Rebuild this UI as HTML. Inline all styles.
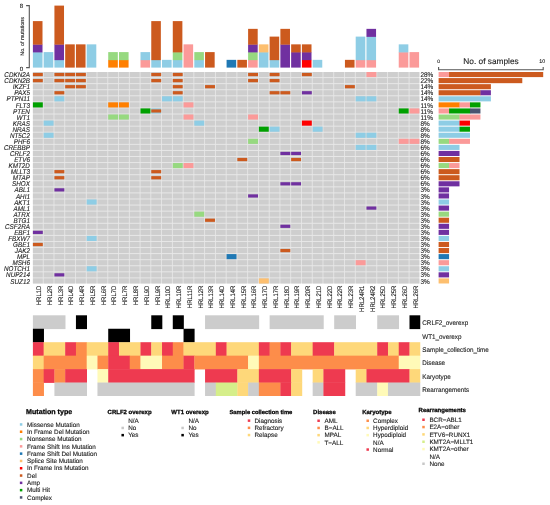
<!DOCTYPE html>
<html><head><meta charset="utf-8"><title>Oncoplot</title>
<style>
html,body{margin:0;padding:0;background:#fff;}
body{width:550px;height:505px;overflow:hidden;}
svg{display:block;font-family:'Liberation Sans', Arial, Helvetica, sans-serif;}
text{fill:#1c1c1c;stroke:#1c1c1c;stroke-width:0.12px;text-rendering:geometricPrecision;}
</style></head>
<body>
<svg width="550" height="505" viewBox="0 0 550 505">
<rect width="550" height="505" fill="#fff"/>
<g id="grid">
<rect x="32.9" y="72" width="386.5" height="211.48" fill="#E8E8E8"/>
<rect x="32.9" y="72" width="9.9" height="5.1" fill="#CECECE"/>
<rect x="43.66" y="72" width="9.9" height="5.1" fill="#CECECE"/>
<rect x="54.42" y="72" width="9.9" height="5.1" fill="#CECECE"/>
<rect x="65.18" y="72" width="9.9" height="5.1" fill="#CECECE"/>
<rect x="75.94" y="72" width="9.9" height="5.1" fill="#CECECE"/>
<rect x="86.7" y="72" width="9.9" height="5.1" fill="#CECECE"/>
<rect x="97.46" y="72" width="9.9" height="5.1" fill="#CECECE"/>
<rect x="108.22" y="72" width="9.9" height="5.1" fill="#CECECE"/>
<rect x="118.98" y="72" width="9.9" height="5.1" fill="#CECECE"/>
<rect x="129.74" y="72" width="9.9" height="5.1" fill="#CECECE"/>
<rect x="140.5" y="72" width="9.9" height="5.1" fill="#CECECE"/>
<rect x="151.26" y="72" width="9.9" height="5.1" fill="#CECECE"/>
<rect x="162.02" y="72" width="9.9" height="5.1" fill="#CECECE"/>
<rect x="172.78" y="72" width="9.9" height="5.1" fill="#CECECE"/>
<rect x="183.54" y="72" width="9.9" height="5.1" fill="#CECECE"/>
<rect x="194.3" y="72" width="9.9" height="5.1" fill="#CECECE"/>
<rect x="205.06" y="72" width="9.9" height="5.1" fill="#CECECE"/>
<rect x="215.82" y="72" width="9.9" height="5.1" fill="#CECECE"/>
<rect x="226.58" y="72" width="9.9" height="5.1" fill="#CECECE"/>
<rect x="237.34" y="72" width="9.9" height="5.1" fill="#CECECE"/>
<rect x="248.1" y="72" width="9.9" height="5.1" fill="#CECECE"/>
<rect x="258.86" y="72" width="9.9" height="5.1" fill="#CECECE"/>
<rect x="269.62" y="72" width="9.9" height="5.1" fill="#CECECE"/>
<rect x="280.38" y="72" width="9.9" height="5.1" fill="#CECECE"/>
<rect x="291.14" y="72" width="9.9" height="5.1" fill="#CECECE"/>
<rect x="301.9" y="72" width="9.9" height="5.1" fill="#CECECE"/>
<rect x="312.66" y="72" width="9.9" height="5.1" fill="#CECECE"/>
<rect x="323.42" y="72" width="9.9" height="5.1" fill="#CECECE"/>
<rect x="334.18" y="72" width="9.9" height="5.1" fill="#CECECE"/>
<rect x="344.94" y="72" width="9.9" height="5.1" fill="#CECECE"/>
<rect x="355.7" y="72" width="9.9" height="5.1" fill="#CECECE"/>
<rect x="366.46" y="72" width="9.9" height="5.1" fill="#CECECE"/>
<rect x="377.22" y="72" width="9.9" height="5.1" fill="#CECECE"/>
<rect x="387.98" y="72" width="9.9" height="5.1" fill="#CECECE"/>
<rect x="398.74" y="72" width="9.9" height="5.1" fill="#CECECE"/>
<rect x="409.5" y="72" width="9.9" height="5.1" fill="#CECECE"/>
<rect x="32.9" y="78.07" width="9.9" height="5.1" fill="#CECECE"/>
<rect x="43.66" y="78.07" width="9.9" height="5.1" fill="#CECECE"/>
<rect x="54.42" y="78.07" width="9.9" height="5.1" fill="#CECECE"/>
<rect x="65.18" y="78.07" width="9.9" height="5.1" fill="#CECECE"/>
<rect x="75.94" y="78.07" width="9.9" height="5.1" fill="#CECECE"/>
<rect x="86.7" y="78.07" width="9.9" height="5.1" fill="#CECECE"/>
<rect x="97.46" y="78.07" width="9.9" height="5.1" fill="#CECECE"/>
<rect x="108.22" y="78.07" width="9.9" height="5.1" fill="#CECECE"/>
<rect x="118.98" y="78.07" width="9.9" height="5.1" fill="#CECECE"/>
<rect x="129.74" y="78.07" width="9.9" height="5.1" fill="#CECECE"/>
<rect x="140.5" y="78.07" width="9.9" height="5.1" fill="#CECECE"/>
<rect x="151.26" y="78.07" width="9.9" height="5.1" fill="#CECECE"/>
<rect x="162.02" y="78.07" width="9.9" height="5.1" fill="#CECECE"/>
<rect x="172.78" y="78.07" width="9.9" height="5.1" fill="#CECECE"/>
<rect x="183.54" y="78.07" width="9.9" height="5.1" fill="#CECECE"/>
<rect x="194.3" y="78.07" width="9.9" height="5.1" fill="#CECECE"/>
<rect x="205.06" y="78.07" width="9.9" height="5.1" fill="#CECECE"/>
<rect x="215.82" y="78.07" width="9.9" height="5.1" fill="#CECECE"/>
<rect x="226.58" y="78.07" width="9.9" height="5.1" fill="#CECECE"/>
<rect x="237.34" y="78.07" width="9.9" height="5.1" fill="#CECECE"/>
<rect x="248.1" y="78.07" width="9.9" height="5.1" fill="#CECECE"/>
<rect x="258.86" y="78.07" width="9.9" height="5.1" fill="#CECECE"/>
<rect x="269.62" y="78.07" width="9.9" height="5.1" fill="#CECECE"/>
<rect x="280.38" y="78.07" width="9.9" height="5.1" fill="#CECECE"/>
<rect x="291.14" y="78.07" width="9.9" height="5.1" fill="#CECECE"/>
<rect x="301.9" y="78.07" width="9.9" height="5.1" fill="#CECECE"/>
<rect x="312.66" y="78.07" width="9.9" height="5.1" fill="#CECECE"/>
<rect x="323.42" y="78.07" width="9.9" height="5.1" fill="#CECECE"/>
<rect x="334.18" y="78.07" width="9.9" height="5.1" fill="#CECECE"/>
<rect x="344.94" y="78.07" width="9.9" height="5.1" fill="#CECECE"/>
<rect x="355.7" y="78.07" width="9.9" height="5.1" fill="#CECECE"/>
<rect x="366.46" y="78.07" width="9.9" height="5.1" fill="#CECECE"/>
<rect x="377.22" y="78.07" width="9.9" height="5.1" fill="#CECECE"/>
<rect x="387.98" y="78.07" width="9.9" height="5.1" fill="#CECECE"/>
<rect x="398.74" y="78.07" width="9.9" height="5.1" fill="#CECECE"/>
<rect x="409.5" y="78.07" width="9.9" height="5.1" fill="#CECECE"/>
<rect x="32.9" y="84.14" width="9.9" height="5.1" fill="#CECECE"/>
<rect x="43.66" y="84.14" width="9.9" height="5.1" fill="#CECECE"/>
<rect x="54.42" y="84.14" width="9.9" height="5.1" fill="#CECECE"/>
<rect x="65.18" y="84.14" width="9.9" height="5.1" fill="#CECECE"/>
<rect x="75.94" y="84.14" width="9.9" height="5.1" fill="#CECECE"/>
<rect x="86.7" y="84.14" width="9.9" height="5.1" fill="#CECECE"/>
<rect x="97.46" y="84.14" width="9.9" height="5.1" fill="#CECECE"/>
<rect x="108.22" y="84.14" width="9.9" height="5.1" fill="#CECECE"/>
<rect x="118.98" y="84.14" width="9.9" height="5.1" fill="#CECECE"/>
<rect x="129.74" y="84.14" width="9.9" height="5.1" fill="#CECECE"/>
<rect x="140.5" y="84.14" width="9.9" height="5.1" fill="#CECECE"/>
<rect x="151.26" y="84.14" width="9.9" height="5.1" fill="#CECECE"/>
<rect x="162.02" y="84.14" width="9.9" height="5.1" fill="#CECECE"/>
<rect x="172.78" y="84.14" width="9.9" height="5.1" fill="#CECECE"/>
<rect x="183.54" y="84.14" width="9.9" height="5.1" fill="#CECECE"/>
<rect x="194.3" y="84.14" width="9.9" height="5.1" fill="#CECECE"/>
<rect x="205.06" y="84.14" width="9.9" height="5.1" fill="#CECECE"/>
<rect x="215.82" y="84.14" width="9.9" height="5.1" fill="#CECECE"/>
<rect x="226.58" y="84.14" width="9.9" height="5.1" fill="#CECECE"/>
<rect x="237.34" y="84.14" width="9.9" height="5.1" fill="#CECECE"/>
<rect x="248.1" y="84.14" width="9.9" height="5.1" fill="#CECECE"/>
<rect x="258.86" y="84.14" width="9.9" height="5.1" fill="#CECECE"/>
<rect x="269.62" y="84.14" width="9.9" height="5.1" fill="#CECECE"/>
<rect x="280.38" y="84.14" width="9.9" height="5.1" fill="#CECECE"/>
<rect x="291.14" y="84.14" width="9.9" height="5.1" fill="#CECECE"/>
<rect x="301.9" y="84.14" width="9.9" height="5.1" fill="#CECECE"/>
<rect x="312.66" y="84.14" width="9.9" height="5.1" fill="#CECECE"/>
<rect x="323.42" y="84.14" width="9.9" height="5.1" fill="#CECECE"/>
<rect x="334.18" y="84.14" width="9.9" height="5.1" fill="#CECECE"/>
<rect x="344.94" y="84.14" width="9.9" height="5.1" fill="#CECECE"/>
<rect x="355.7" y="84.14" width="9.9" height="5.1" fill="#CECECE"/>
<rect x="366.46" y="84.14" width="9.9" height="5.1" fill="#CECECE"/>
<rect x="377.22" y="84.14" width="9.9" height="5.1" fill="#CECECE"/>
<rect x="387.98" y="84.14" width="9.9" height="5.1" fill="#CECECE"/>
<rect x="398.74" y="84.14" width="9.9" height="5.1" fill="#CECECE"/>
<rect x="409.5" y="84.14" width="9.9" height="5.1" fill="#CECECE"/>
<rect x="32.9" y="90.21" width="9.9" height="5.1" fill="#CECECE"/>
<rect x="43.66" y="90.21" width="9.9" height="5.1" fill="#CECECE"/>
<rect x="54.42" y="90.21" width="9.9" height="5.1" fill="#CECECE"/>
<rect x="65.18" y="90.21" width="9.9" height="5.1" fill="#CECECE"/>
<rect x="75.94" y="90.21" width="9.9" height="5.1" fill="#CECECE"/>
<rect x="86.7" y="90.21" width="9.9" height="5.1" fill="#CECECE"/>
<rect x="97.46" y="90.21" width="9.9" height="5.1" fill="#CECECE"/>
<rect x="108.22" y="90.21" width="9.9" height="5.1" fill="#CECECE"/>
<rect x="118.98" y="90.21" width="9.9" height="5.1" fill="#CECECE"/>
<rect x="129.74" y="90.21" width="9.9" height="5.1" fill="#CECECE"/>
<rect x="140.5" y="90.21" width="9.9" height="5.1" fill="#CECECE"/>
<rect x="151.26" y="90.21" width="9.9" height="5.1" fill="#CECECE"/>
<rect x="162.02" y="90.21" width="9.9" height="5.1" fill="#CECECE"/>
<rect x="172.78" y="90.21" width="9.9" height="5.1" fill="#CECECE"/>
<rect x="183.54" y="90.21" width="9.9" height="5.1" fill="#CECECE"/>
<rect x="194.3" y="90.21" width="9.9" height="5.1" fill="#CECECE"/>
<rect x="205.06" y="90.21" width="9.9" height="5.1" fill="#CECECE"/>
<rect x="215.82" y="90.21" width="9.9" height="5.1" fill="#CECECE"/>
<rect x="226.58" y="90.21" width="9.9" height="5.1" fill="#CECECE"/>
<rect x="237.34" y="90.21" width="9.9" height="5.1" fill="#CECECE"/>
<rect x="248.1" y="90.21" width="9.9" height="5.1" fill="#CECECE"/>
<rect x="258.86" y="90.21" width="9.9" height="5.1" fill="#CECECE"/>
<rect x="269.62" y="90.21" width="9.9" height="5.1" fill="#CECECE"/>
<rect x="280.38" y="90.21" width="9.9" height="5.1" fill="#CECECE"/>
<rect x="291.14" y="90.21" width="9.9" height="5.1" fill="#CECECE"/>
<rect x="301.9" y="90.21" width="9.9" height="5.1" fill="#CECECE"/>
<rect x="312.66" y="90.21" width="9.9" height="5.1" fill="#CECECE"/>
<rect x="323.42" y="90.21" width="9.9" height="5.1" fill="#CECECE"/>
<rect x="334.18" y="90.21" width="9.9" height="5.1" fill="#CECECE"/>
<rect x="344.94" y="90.21" width="9.9" height="5.1" fill="#CECECE"/>
<rect x="355.7" y="90.21" width="9.9" height="5.1" fill="#CECECE"/>
<rect x="366.46" y="90.21" width="9.9" height="5.1" fill="#CECECE"/>
<rect x="377.22" y="90.21" width="9.9" height="5.1" fill="#CECECE"/>
<rect x="387.98" y="90.21" width="9.9" height="5.1" fill="#CECECE"/>
<rect x="398.74" y="90.21" width="9.9" height="5.1" fill="#CECECE"/>
<rect x="409.5" y="90.21" width="9.9" height="5.1" fill="#CECECE"/>
<rect x="32.9" y="96.28" width="9.9" height="5.1" fill="#CECECE"/>
<rect x="43.66" y="96.28" width="9.9" height="5.1" fill="#CECECE"/>
<rect x="54.42" y="96.28" width="9.9" height="5.1" fill="#CECECE"/>
<rect x="65.18" y="96.28" width="9.9" height="5.1" fill="#CECECE"/>
<rect x="75.94" y="96.28" width="9.9" height="5.1" fill="#CECECE"/>
<rect x="86.7" y="96.28" width="9.9" height="5.1" fill="#CECECE"/>
<rect x="97.46" y="96.28" width="9.9" height="5.1" fill="#CECECE"/>
<rect x="108.22" y="96.28" width="9.9" height="5.1" fill="#CECECE"/>
<rect x="118.98" y="96.28" width="9.9" height="5.1" fill="#CECECE"/>
<rect x="129.74" y="96.28" width="9.9" height="5.1" fill="#CECECE"/>
<rect x="140.5" y="96.28" width="9.9" height="5.1" fill="#CECECE"/>
<rect x="151.26" y="96.28" width="9.9" height="5.1" fill="#CECECE"/>
<rect x="162.02" y="96.28" width="9.9" height="5.1" fill="#CECECE"/>
<rect x="172.78" y="96.28" width="9.9" height="5.1" fill="#CECECE"/>
<rect x="183.54" y="96.28" width="9.9" height="5.1" fill="#CECECE"/>
<rect x="194.3" y="96.28" width="9.9" height="5.1" fill="#CECECE"/>
<rect x="205.06" y="96.28" width="9.9" height="5.1" fill="#CECECE"/>
<rect x="215.82" y="96.28" width="9.9" height="5.1" fill="#CECECE"/>
<rect x="226.58" y="96.28" width="9.9" height="5.1" fill="#CECECE"/>
<rect x="237.34" y="96.28" width="9.9" height="5.1" fill="#CECECE"/>
<rect x="248.1" y="96.28" width="9.9" height="5.1" fill="#CECECE"/>
<rect x="258.86" y="96.28" width="9.9" height="5.1" fill="#CECECE"/>
<rect x="269.62" y="96.28" width="9.9" height="5.1" fill="#CECECE"/>
<rect x="280.38" y="96.28" width="9.9" height="5.1" fill="#CECECE"/>
<rect x="291.14" y="96.28" width="9.9" height="5.1" fill="#CECECE"/>
<rect x="301.9" y="96.28" width="9.9" height="5.1" fill="#CECECE"/>
<rect x="312.66" y="96.28" width="9.9" height="5.1" fill="#CECECE"/>
<rect x="323.42" y="96.28" width="9.9" height="5.1" fill="#CECECE"/>
<rect x="334.18" y="96.28" width="9.9" height="5.1" fill="#CECECE"/>
<rect x="344.94" y="96.28" width="9.9" height="5.1" fill="#CECECE"/>
<rect x="355.7" y="96.28" width="9.9" height="5.1" fill="#CECECE"/>
<rect x="366.46" y="96.28" width="9.9" height="5.1" fill="#CECECE"/>
<rect x="377.22" y="96.28" width="9.9" height="5.1" fill="#CECECE"/>
<rect x="387.98" y="96.28" width="9.9" height="5.1" fill="#CECECE"/>
<rect x="398.74" y="96.28" width="9.9" height="5.1" fill="#CECECE"/>
<rect x="409.5" y="96.28" width="9.9" height="5.1" fill="#CECECE"/>
<rect x="32.9" y="102.35" width="9.9" height="5.1" fill="#CECECE"/>
<rect x="43.66" y="102.35" width="9.9" height="5.1" fill="#CECECE"/>
<rect x="54.42" y="102.35" width="9.9" height="5.1" fill="#CECECE"/>
<rect x="65.18" y="102.35" width="9.9" height="5.1" fill="#CECECE"/>
<rect x="75.94" y="102.35" width="9.9" height="5.1" fill="#CECECE"/>
<rect x="86.7" y="102.35" width="9.9" height="5.1" fill="#CECECE"/>
<rect x="97.46" y="102.35" width="9.9" height="5.1" fill="#CECECE"/>
<rect x="108.22" y="102.35" width="9.9" height="5.1" fill="#CECECE"/>
<rect x="118.98" y="102.35" width="9.9" height="5.1" fill="#CECECE"/>
<rect x="129.74" y="102.35" width="9.9" height="5.1" fill="#CECECE"/>
<rect x="140.5" y="102.35" width="9.9" height="5.1" fill="#CECECE"/>
<rect x="151.26" y="102.35" width="9.9" height="5.1" fill="#CECECE"/>
<rect x="162.02" y="102.35" width="9.9" height="5.1" fill="#CECECE"/>
<rect x="172.78" y="102.35" width="9.9" height="5.1" fill="#CECECE"/>
<rect x="183.54" y="102.35" width="9.9" height="5.1" fill="#CECECE"/>
<rect x="194.3" y="102.35" width="9.9" height="5.1" fill="#CECECE"/>
<rect x="205.06" y="102.35" width="9.9" height="5.1" fill="#CECECE"/>
<rect x="215.82" y="102.35" width="9.9" height="5.1" fill="#CECECE"/>
<rect x="226.58" y="102.35" width="9.9" height="5.1" fill="#CECECE"/>
<rect x="237.34" y="102.35" width="9.9" height="5.1" fill="#CECECE"/>
<rect x="248.1" y="102.35" width="9.9" height="5.1" fill="#CECECE"/>
<rect x="258.86" y="102.35" width="9.9" height="5.1" fill="#CECECE"/>
<rect x="269.62" y="102.35" width="9.9" height="5.1" fill="#CECECE"/>
<rect x="280.38" y="102.35" width="9.9" height="5.1" fill="#CECECE"/>
<rect x="291.14" y="102.35" width="9.9" height="5.1" fill="#CECECE"/>
<rect x="301.9" y="102.35" width="9.9" height="5.1" fill="#CECECE"/>
<rect x="312.66" y="102.35" width="9.9" height="5.1" fill="#CECECE"/>
<rect x="323.42" y="102.35" width="9.9" height="5.1" fill="#CECECE"/>
<rect x="334.18" y="102.35" width="9.9" height="5.1" fill="#CECECE"/>
<rect x="344.94" y="102.35" width="9.9" height="5.1" fill="#CECECE"/>
<rect x="355.7" y="102.35" width="9.9" height="5.1" fill="#CECECE"/>
<rect x="366.46" y="102.35" width="9.9" height="5.1" fill="#CECECE"/>
<rect x="377.22" y="102.35" width="9.9" height="5.1" fill="#CECECE"/>
<rect x="387.98" y="102.35" width="9.9" height="5.1" fill="#CECECE"/>
<rect x="398.74" y="102.35" width="9.9" height="5.1" fill="#CECECE"/>
<rect x="409.5" y="102.35" width="9.9" height="5.1" fill="#CECECE"/>
<rect x="32.9" y="108.42" width="9.9" height="5.1" fill="#CECECE"/>
<rect x="43.66" y="108.42" width="9.9" height="5.1" fill="#CECECE"/>
<rect x="54.42" y="108.42" width="9.9" height="5.1" fill="#CECECE"/>
<rect x="65.18" y="108.42" width="9.9" height="5.1" fill="#CECECE"/>
<rect x="75.94" y="108.42" width="9.9" height="5.1" fill="#CECECE"/>
<rect x="86.7" y="108.42" width="9.9" height="5.1" fill="#CECECE"/>
<rect x="97.46" y="108.42" width="9.9" height="5.1" fill="#CECECE"/>
<rect x="108.22" y="108.42" width="9.9" height="5.1" fill="#CECECE"/>
<rect x="118.98" y="108.42" width="9.9" height="5.1" fill="#CECECE"/>
<rect x="129.74" y="108.42" width="9.9" height="5.1" fill="#CECECE"/>
<rect x="140.5" y="108.42" width="9.9" height="5.1" fill="#CECECE"/>
<rect x="151.26" y="108.42" width="9.9" height="5.1" fill="#CECECE"/>
<rect x="162.02" y="108.42" width="9.9" height="5.1" fill="#CECECE"/>
<rect x="172.78" y="108.42" width="9.9" height="5.1" fill="#CECECE"/>
<rect x="183.54" y="108.42" width="9.9" height="5.1" fill="#CECECE"/>
<rect x="194.3" y="108.42" width="9.9" height="5.1" fill="#CECECE"/>
<rect x="205.06" y="108.42" width="9.9" height="5.1" fill="#CECECE"/>
<rect x="215.82" y="108.42" width="9.9" height="5.1" fill="#CECECE"/>
<rect x="226.58" y="108.42" width="9.9" height="5.1" fill="#CECECE"/>
<rect x="237.34" y="108.42" width="9.9" height="5.1" fill="#CECECE"/>
<rect x="248.1" y="108.42" width="9.9" height="5.1" fill="#CECECE"/>
<rect x="258.86" y="108.42" width="9.9" height="5.1" fill="#CECECE"/>
<rect x="269.62" y="108.42" width="9.9" height="5.1" fill="#CECECE"/>
<rect x="280.38" y="108.42" width="9.9" height="5.1" fill="#CECECE"/>
<rect x="291.14" y="108.42" width="9.9" height="5.1" fill="#CECECE"/>
<rect x="301.9" y="108.42" width="9.9" height="5.1" fill="#CECECE"/>
<rect x="312.66" y="108.42" width="9.9" height="5.1" fill="#CECECE"/>
<rect x="323.42" y="108.42" width="9.9" height="5.1" fill="#CECECE"/>
<rect x="334.18" y="108.42" width="9.9" height="5.1" fill="#CECECE"/>
<rect x="344.94" y="108.42" width="9.9" height="5.1" fill="#CECECE"/>
<rect x="355.7" y="108.42" width="9.9" height="5.1" fill="#CECECE"/>
<rect x="366.46" y="108.42" width="9.9" height="5.1" fill="#CECECE"/>
<rect x="377.22" y="108.42" width="9.9" height="5.1" fill="#CECECE"/>
<rect x="387.98" y="108.42" width="9.9" height="5.1" fill="#CECECE"/>
<rect x="398.74" y="108.42" width="9.9" height="5.1" fill="#CECECE"/>
<rect x="409.5" y="108.42" width="9.9" height="5.1" fill="#CECECE"/>
<rect x="32.9" y="114.49" width="9.9" height="5.1" fill="#CECECE"/>
<rect x="43.66" y="114.49" width="9.9" height="5.1" fill="#CECECE"/>
<rect x="54.42" y="114.49" width="9.9" height="5.1" fill="#CECECE"/>
<rect x="65.18" y="114.49" width="9.9" height="5.1" fill="#CECECE"/>
<rect x="75.94" y="114.49" width="9.9" height="5.1" fill="#CECECE"/>
<rect x="86.7" y="114.49" width="9.9" height="5.1" fill="#CECECE"/>
<rect x="97.46" y="114.49" width="9.9" height="5.1" fill="#CECECE"/>
<rect x="108.22" y="114.49" width="9.9" height="5.1" fill="#CECECE"/>
<rect x="118.98" y="114.49" width="9.9" height="5.1" fill="#CECECE"/>
<rect x="129.74" y="114.49" width="9.9" height="5.1" fill="#CECECE"/>
<rect x="140.5" y="114.49" width="9.9" height="5.1" fill="#CECECE"/>
<rect x="151.26" y="114.49" width="9.9" height="5.1" fill="#CECECE"/>
<rect x="162.02" y="114.49" width="9.9" height="5.1" fill="#CECECE"/>
<rect x="172.78" y="114.49" width="9.9" height="5.1" fill="#CECECE"/>
<rect x="183.54" y="114.49" width="9.9" height="5.1" fill="#CECECE"/>
<rect x="194.3" y="114.49" width="9.9" height="5.1" fill="#CECECE"/>
<rect x="205.06" y="114.49" width="9.9" height="5.1" fill="#CECECE"/>
<rect x="215.82" y="114.49" width="9.9" height="5.1" fill="#CECECE"/>
<rect x="226.58" y="114.49" width="9.9" height="5.1" fill="#CECECE"/>
<rect x="237.34" y="114.49" width="9.9" height="5.1" fill="#CECECE"/>
<rect x="248.1" y="114.49" width="9.9" height="5.1" fill="#CECECE"/>
<rect x="258.86" y="114.49" width="9.9" height="5.1" fill="#CECECE"/>
<rect x="269.62" y="114.49" width="9.9" height="5.1" fill="#CECECE"/>
<rect x="280.38" y="114.49" width="9.9" height="5.1" fill="#CECECE"/>
<rect x="291.14" y="114.49" width="9.9" height="5.1" fill="#CECECE"/>
<rect x="301.9" y="114.49" width="9.9" height="5.1" fill="#CECECE"/>
<rect x="312.66" y="114.49" width="9.9" height="5.1" fill="#CECECE"/>
<rect x="323.42" y="114.49" width="9.9" height="5.1" fill="#CECECE"/>
<rect x="334.18" y="114.49" width="9.9" height="5.1" fill="#CECECE"/>
<rect x="344.94" y="114.49" width="9.9" height="5.1" fill="#CECECE"/>
<rect x="355.7" y="114.49" width="9.9" height="5.1" fill="#CECECE"/>
<rect x="366.46" y="114.49" width="9.9" height="5.1" fill="#CECECE"/>
<rect x="377.22" y="114.49" width="9.9" height="5.1" fill="#CECECE"/>
<rect x="387.98" y="114.49" width="9.9" height="5.1" fill="#CECECE"/>
<rect x="398.74" y="114.49" width="9.9" height="5.1" fill="#CECECE"/>
<rect x="409.5" y="114.49" width="9.9" height="5.1" fill="#CECECE"/>
<rect x="32.9" y="120.56" width="9.9" height="5.1" fill="#CECECE"/>
<rect x="43.66" y="120.56" width="9.9" height="5.1" fill="#CECECE"/>
<rect x="54.42" y="120.56" width="9.9" height="5.1" fill="#CECECE"/>
<rect x="65.18" y="120.56" width="9.9" height="5.1" fill="#CECECE"/>
<rect x="75.94" y="120.56" width="9.9" height="5.1" fill="#CECECE"/>
<rect x="86.7" y="120.56" width="9.9" height="5.1" fill="#CECECE"/>
<rect x="97.46" y="120.56" width="9.9" height="5.1" fill="#CECECE"/>
<rect x="108.22" y="120.56" width="9.9" height="5.1" fill="#CECECE"/>
<rect x="118.98" y="120.56" width="9.9" height="5.1" fill="#CECECE"/>
<rect x="129.74" y="120.56" width="9.9" height="5.1" fill="#CECECE"/>
<rect x="140.5" y="120.56" width="9.9" height="5.1" fill="#CECECE"/>
<rect x="151.26" y="120.56" width="9.9" height="5.1" fill="#CECECE"/>
<rect x="162.02" y="120.56" width="9.9" height="5.1" fill="#CECECE"/>
<rect x="172.78" y="120.56" width="9.9" height="5.1" fill="#CECECE"/>
<rect x="183.54" y="120.56" width="9.9" height="5.1" fill="#CECECE"/>
<rect x="194.3" y="120.56" width="9.9" height="5.1" fill="#CECECE"/>
<rect x="205.06" y="120.56" width="9.9" height="5.1" fill="#CECECE"/>
<rect x="215.82" y="120.56" width="9.9" height="5.1" fill="#CECECE"/>
<rect x="226.58" y="120.56" width="9.9" height="5.1" fill="#CECECE"/>
<rect x="237.34" y="120.56" width="9.9" height="5.1" fill="#CECECE"/>
<rect x="248.1" y="120.56" width="9.9" height="5.1" fill="#CECECE"/>
<rect x="258.86" y="120.56" width="9.9" height="5.1" fill="#CECECE"/>
<rect x="269.62" y="120.56" width="9.9" height="5.1" fill="#CECECE"/>
<rect x="280.38" y="120.56" width="9.9" height="5.1" fill="#CECECE"/>
<rect x="291.14" y="120.56" width="9.9" height="5.1" fill="#CECECE"/>
<rect x="301.9" y="120.56" width="9.9" height="5.1" fill="#CECECE"/>
<rect x="312.66" y="120.56" width="9.9" height="5.1" fill="#CECECE"/>
<rect x="323.42" y="120.56" width="9.9" height="5.1" fill="#CECECE"/>
<rect x="334.18" y="120.56" width="9.9" height="5.1" fill="#CECECE"/>
<rect x="344.94" y="120.56" width="9.9" height="5.1" fill="#CECECE"/>
<rect x="355.7" y="120.56" width="9.9" height="5.1" fill="#CECECE"/>
<rect x="366.46" y="120.56" width="9.9" height="5.1" fill="#CECECE"/>
<rect x="377.22" y="120.56" width="9.9" height="5.1" fill="#CECECE"/>
<rect x="387.98" y="120.56" width="9.9" height="5.1" fill="#CECECE"/>
<rect x="398.74" y="120.56" width="9.9" height="5.1" fill="#CECECE"/>
<rect x="409.5" y="120.56" width="9.9" height="5.1" fill="#CECECE"/>
<rect x="32.9" y="126.63" width="9.9" height="5.1" fill="#CECECE"/>
<rect x="43.66" y="126.63" width="9.9" height="5.1" fill="#CECECE"/>
<rect x="54.42" y="126.63" width="9.9" height="5.1" fill="#CECECE"/>
<rect x="65.18" y="126.63" width="9.9" height="5.1" fill="#CECECE"/>
<rect x="75.94" y="126.63" width="9.9" height="5.1" fill="#CECECE"/>
<rect x="86.7" y="126.63" width="9.9" height="5.1" fill="#CECECE"/>
<rect x="97.46" y="126.63" width="9.9" height="5.1" fill="#CECECE"/>
<rect x="108.22" y="126.63" width="9.9" height="5.1" fill="#CECECE"/>
<rect x="118.98" y="126.63" width="9.9" height="5.1" fill="#CECECE"/>
<rect x="129.74" y="126.63" width="9.9" height="5.1" fill="#CECECE"/>
<rect x="140.5" y="126.63" width="9.9" height="5.1" fill="#CECECE"/>
<rect x="151.26" y="126.63" width="9.9" height="5.1" fill="#CECECE"/>
<rect x="162.02" y="126.63" width="9.9" height="5.1" fill="#CECECE"/>
<rect x="172.78" y="126.63" width="9.9" height="5.1" fill="#CECECE"/>
<rect x="183.54" y="126.63" width="9.9" height="5.1" fill="#CECECE"/>
<rect x="194.3" y="126.63" width="9.9" height="5.1" fill="#CECECE"/>
<rect x="205.06" y="126.63" width="9.9" height="5.1" fill="#CECECE"/>
<rect x="215.82" y="126.63" width="9.9" height="5.1" fill="#CECECE"/>
<rect x="226.58" y="126.63" width="9.9" height="5.1" fill="#CECECE"/>
<rect x="237.34" y="126.63" width="9.9" height="5.1" fill="#CECECE"/>
<rect x="248.1" y="126.63" width="9.9" height="5.1" fill="#CECECE"/>
<rect x="258.86" y="126.63" width="9.9" height="5.1" fill="#CECECE"/>
<rect x="269.62" y="126.63" width="9.9" height="5.1" fill="#CECECE"/>
<rect x="280.38" y="126.63" width="9.9" height="5.1" fill="#CECECE"/>
<rect x="291.14" y="126.63" width="9.9" height="5.1" fill="#CECECE"/>
<rect x="301.9" y="126.63" width="9.9" height="5.1" fill="#CECECE"/>
<rect x="312.66" y="126.63" width="9.9" height="5.1" fill="#CECECE"/>
<rect x="323.42" y="126.63" width="9.9" height="5.1" fill="#CECECE"/>
<rect x="334.18" y="126.63" width="9.9" height="5.1" fill="#CECECE"/>
<rect x="344.94" y="126.63" width="9.9" height="5.1" fill="#CECECE"/>
<rect x="355.7" y="126.63" width="9.9" height="5.1" fill="#CECECE"/>
<rect x="366.46" y="126.63" width="9.9" height="5.1" fill="#CECECE"/>
<rect x="377.22" y="126.63" width="9.9" height="5.1" fill="#CECECE"/>
<rect x="387.98" y="126.63" width="9.9" height="5.1" fill="#CECECE"/>
<rect x="398.74" y="126.63" width="9.9" height="5.1" fill="#CECECE"/>
<rect x="409.5" y="126.63" width="9.9" height="5.1" fill="#CECECE"/>
<rect x="32.9" y="132.7" width="9.9" height="5.1" fill="#CECECE"/>
<rect x="43.66" y="132.7" width="9.9" height="5.1" fill="#CECECE"/>
<rect x="54.42" y="132.7" width="9.9" height="5.1" fill="#CECECE"/>
<rect x="65.18" y="132.7" width="9.9" height="5.1" fill="#CECECE"/>
<rect x="75.94" y="132.7" width="9.9" height="5.1" fill="#CECECE"/>
<rect x="86.7" y="132.7" width="9.9" height="5.1" fill="#CECECE"/>
<rect x="97.46" y="132.7" width="9.9" height="5.1" fill="#CECECE"/>
<rect x="108.22" y="132.7" width="9.9" height="5.1" fill="#CECECE"/>
<rect x="118.98" y="132.7" width="9.9" height="5.1" fill="#CECECE"/>
<rect x="129.74" y="132.7" width="9.9" height="5.1" fill="#CECECE"/>
<rect x="140.5" y="132.7" width="9.9" height="5.1" fill="#CECECE"/>
<rect x="151.26" y="132.7" width="9.9" height="5.1" fill="#CECECE"/>
<rect x="162.02" y="132.7" width="9.9" height="5.1" fill="#CECECE"/>
<rect x="172.78" y="132.7" width="9.9" height="5.1" fill="#CECECE"/>
<rect x="183.54" y="132.7" width="9.9" height="5.1" fill="#CECECE"/>
<rect x="194.3" y="132.7" width="9.9" height="5.1" fill="#CECECE"/>
<rect x="205.06" y="132.7" width="9.9" height="5.1" fill="#CECECE"/>
<rect x="215.82" y="132.7" width="9.9" height="5.1" fill="#CECECE"/>
<rect x="226.58" y="132.7" width="9.9" height="5.1" fill="#CECECE"/>
<rect x="237.34" y="132.7" width="9.9" height="5.1" fill="#CECECE"/>
<rect x="248.1" y="132.7" width="9.9" height="5.1" fill="#CECECE"/>
<rect x="258.86" y="132.7" width="9.9" height="5.1" fill="#CECECE"/>
<rect x="269.62" y="132.7" width="9.9" height="5.1" fill="#CECECE"/>
<rect x="280.38" y="132.7" width="9.9" height="5.1" fill="#CECECE"/>
<rect x="291.14" y="132.7" width="9.9" height="5.1" fill="#CECECE"/>
<rect x="301.9" y="132.7" width="9.9" height="5.1" fill="#CECECE"/>
<rect x="312.66" y="132.7" width="9.9" height="5.1" fill="#CECECE"/>
<rect x="323.42" y="132.7" width="9.9" height="5.1" fill="#CECECE"/>
<rect x="334.18" y="132.7" width="9.9" height="5.1" fill="#CECECE"/>
<rect x="344.94" y="132.7" width="9.9" height="5.1" fill="#CECECE"/>
<rect x="355.7" y="132.7" width="9.9" height="5.1" fill="#CECECE"/>
<rect x="366.46" y="132.7" width="9.9" height="5.1" fill="#CECECE"/>
<rect x="377.22" y="132.7" width="9.9" height="5.1" fill="#CECECE"/>
<rect x="387.98" y="132.7" width="9.9" height="5.1" fill="#CECECE"/>
<rect x="398.74" y="132.7" width="9.9" height="5.1" fill="#CECECE"/>
<rect x="409.5" y="132.7" width="9.9" height="5.1" fill="#CECECE"/>
<rect x="32.9" y="138.77" width="9.9" height="5.1" fill="#CECECE"/>
<rect x="43.66" y="138.77" width="9.9" height="5.1" fill="#CECECE"/>
<rect x="54.42" y="138.77" width="9.9" height="5.1" fill="#CECECE"/>
<rect x="65.18" y="138.77" width="9.9" height="5.1" fill="#CECECE"/>
<rect x="75.94" y="138.77" width="9.9" height="5.1" fill="#CECECE"/>
<rect x="86.7" y="138.77" width="9.9" height="5.1" fill="#CECECE"/>
<rect x="97.46" y="138.77" width="9.9" height="5.1" fill="#CECECE"/>
<rect x="108.22" y="138.77" width="9.9" height="5.1" fill="#CECECE"/>
<rect x="118.98" y="138.77" width="9.9" height="5.1" fill="#CECECE"/>
<rect x="129.74" y="138.77" width="9.9" height="5.1" fill="#CECECE"/>
<rect x="140.5" y="138.77" width="9.9" height="5.1" fill="#CECECE"/>
<rect x="151.26" y="138.77" width="9.9" height="5.1" fill="#CECECE"/>
<rect x="162.02" y="138.77" width="9.9" height="5.1" fill="#CECECE"/>
<rect x="172.78" y="138.77" width="9.9" height="5.1" fill="#CECECE"/>
<rect x="183.54" y="138.77" width="9.9" height="5.1" fill="#CECECE"/>
<rect x="194.3" y="138.77" width="9.9" height="5.1" fill="#CECECE"/>
<rect x="205.06" y="138.77" width="9.9" height="5.1" fill="#CECECE"/>
<rect x="215.82" y="138.77" width="9.9" height="5.1" fill="#CECECE"/>
<rect x="226.58" y="138.77" width="9.9" height="5.1" fill="#CECECE"/>
<rect x="237.34" y="138.77" width="9.9" height="5.1" fill="#CECECE"/>
<rect x="248.1" y="138.77" width="9.9" height="5.1" fill="#CECECE"/>
<rect x="258.86" y="138.77" width="9.9" height="5.1" fill="#CECECE"/>
<rect x="269.62" y="138.77" width="9.9" height="5.1" fill="#CECECE"/>
<rect x="280.38" y="138.77" width="9.9" height="5.1" fill="#CECECE"/>
<rect x="291.14" y="138.77" width="9.9" height="5.1" fill="#CECECE"/>
<rect x="301.9" y="138.77" width="9.9" height="5.1" fill="#CECECE"/>
<rect x="312.66" y="138.77" width="9.9" height="5.1" fill="#CECECE"/>
<rect x="323.42" y="138.77" width="9.9" height="5.1" fill="#CECECE"/>
<rect x="334.18" y="138.77" width="9.9" height="5.1" fill="#CECECE"/>
<rect x="344.94" y="138.77" width="9.9" height="5.1" fill="#CECECE"/>
<rect x="355.7" y="138.77" width="9.9" height="5.1" fill="#CECECE"/>
<rect x="366.46" y="138.77" width="9.9" height="5.1" fill="#CECECE"/>
<rect x="377.22" y="138.77" width="9.9" height="5.1" fill="#CECECE"/>
<rect x="387.98" y="138.77" width="9.9" height="5.1" fill="#CECECE"/>
<rect x="398.74" y="138.77" width="9.9" height="5.1" fill="#CECECE"/>
<rect x="409.5" y="138.77" width="9.9" height="5.1" fill="#CECECE"/>
<rect x="32.9" y="144.84" width="9.9" height="5.1" fill="#CECECE"/>
<rect x="43.66" y="144.84" width="9.9" height="5.1" fill="#CECECE"/>
<rect x="54.42" y="144.84" width="9.9" height="5.1" fill="#CECECE"/>
<rect x="65.18" y="144.84" width="9.9" height="5.1" fill="#CECECE"/>
<rect x="75.94" y="144.84" width="9.9" height="5.1" fill="#CECECE"/>
<rect x="86.7" y="144.84" width="9.9" height="5.1" fill="#CECECE"/>
<rect x="97.46" y="144.84" width="9.9" height="5.1" fill="#CECECE"/>
<rect x="108.22" y="144.84" width="9.9" height="5.1" fill="#CECECE"/>
<rect x="118.98" y="144.84" width="9.9" height="5.1" fill="#CECECE"/>
<rect x="129.74" y="144.84" width="9.9" height="5.1" fill="#CECECE"/>
<rect x="140.5" y="144.84" width="9.9" height="5.1" fill="#CECECE"/>
<rect x="151.26" y="144.84" width="9.9" height="5.1" fill="#CECECE"/>
<rect x="162.02" y="144.84" width="9.9" height="5.1" fill="#CECECE"/>
<rect x="172.78" y="144.84" width="9.9" height="5.1" fill="#CECECE"/>
<rect x="183.54" y="144.84" width="9.9" height="5.1" fill="#CECECE"/>
<rect x="194.3" y="144.84" width="9.9" height="5.1" fill="#CECECE"/>
<rect x="205.06" y="144.84" width="9.9" height="5.1" fill="#CECECE"/>
<rect x="215.82" y="144.84" width="9.9" height="5.1" fill="#CECECE"/>
<rect x="226.58" y="144.84" width="9.9" height="5.1" fill="#CECECE"/>
<rect x="237.34" y="144.84" width="9.9" height="5.1" fill="#CECECE"/>
<rect x="248.1" y="144.84" width="9.9" height="5.1" fill="#CECECE"/>
<rect x="258.86" y="144.84" width="9.9" height="5.1" fill="#CECECE"/>
<rect x="269.62" y="144.84" width="9.9" height="5.1" fill="#CECECE"/>
<rect x="280.38" y="144.84" width="9.9" height="5.1" fill="#CECECE"/>
<rect x="291.14" y="144.84" width="9.9" height="5.1" fill="#CECECE"/>
<rect x="301.9" y="144.84" width="9.9" height="5.1" fill="#CECECE"/>
<rect x="312.66" y="144.84" width="9.9" height="5.1" fill="#CECECE"/>
<rect x="323.42" y="144.84" width="9.9" height="5.1" fill="#CECECE"/>
<rect x="334.18" y="144.84" width="9.9" height="5.1" fill="#CECECE"/>
<rect x="344.94" y="144.84" width="9.9" height="5.1" fill="#CECECE"/>
<rect x="355.7" y="144.84" width="9.9" height="5.1" fill="#CECECE"/>
<rect x="366.46" y="144.84" width="9.9" height="5.1" fill="#CECECE"/>
<rect x="377.22" y="144.84" width="9.9" height="5.1" fill="#CECECE"/>
<rect x="387.98" y="144.84" width="9.9" height="5.1" fill="#CECECE"/>
<rect x="398.74" y="144.84" width="9.9" height="5.1" fill="#CECECE"/>
<rect x="409.5" y="144.84" width="9.9" height="5.1" fill="#CECECE"/>
<rect x="32.9" y="150.91" width="9.9" height="5.1" fill="#CECECE"/>
<rect x="43.66" y="150.91" width="9.9" height="5.1" fill="#CECECE"/>
<rect x="54.42" y="150.91" width="9.9" height="5.1" fill="#CECECE"/>
<rect x="65.18" y="150.91" width="9.9" height="5.1" fill="#CECECE"/>
<rect x="75.94" y="150.91" width="9.9" height="5.1" fill="#CECECE"/>
<rect x="86.7" y="150.91" width="9.9" height="5.1" fill="#CECECE"/>
<rect x="97.46" y="150.91" width="9.9" height="5.1" fill="#CECECE"/>
<rect x="108.22" y="150.91" width="9.9" height="5.1" fill="#CECECE"/>
<rect x="118.98" y="150.91" width="9.9" height="5.1" fill="#CECECE"/>
<rect x="129.74" y="150.91" width="9.9" height="5.1" fill="#CECECE"/>
<rect x="140.5" y="150.91" width="9.9" height="5.1" fill="#CECECE"/>
<rect x="151.26" y="150.91" width="9.9" height="5.1" fill="#CECECE"/>
<rect x="162.02" y="150.91" width="9.9" height="5.1" fill="#CECECE"/>
<rect x="172.78" y="150.91" width="9.9" height="5.1" fill="#CECECE"/>
<rect x="183.54" y="150.91" width="9.9" height="5.1" fill="#CECECE"/>
<rect x="194.3" y="150.91" width="9.9" height="5.1" fill="#CECECE"/>
<rect x="205.06" y="150.91" width="9.9" height="5.1" fill="#CECECE"/>
<rect x="215.82" y="150.91" width="9.9" height="5.1" fill="#CECECE"/>
<rect x="226.58" y="150.91" width="9.9" height="5.1" fill="#CECECE"/>
<rect x="237.34" y="150.91" width="9.9" height="5.1" fill="#CECECE"/>
<rect x="248.1" y="150.91" width="9.9" height="5.1" fill="#CECECE"/>
<rect x="258.86" y="150.91" width="9.9" height="5.1" fill="#CECECE"/>
<rect x="269.62" y="150.91" width="9.9" height="5.1" fill="#CECECE"/>
<rect x="280.38" y="150.91" width="9.9" height="5.1" fill="#CECECE"/>
<rect x="291.14" y="150.91" width="9.9" height="5.1" fill="#CECECE"/>
<rect x="301.9" y="150.91" width="9.9" height="5.1" fill="#CECECE"/>
<rect x="312.66" y="150.91" width="9.9" height="5.1" fill="#CECECE"/>
<rect x="323.42" y="150.91" width="9.9" height="5.1" fill="#CECECE"/>
<rect x="334.18" y="150.91" width="9.9" height="5.1" fill="#CECECE"/>
<rect x="344.94" y="150.91" width="9.9" height="5.1" fill="#CECECE"/>
<rect x="355.7" y="150.91" width="9.9" height="5.1" fill="#CECECE"/>
<rect x="366.46" y="150.91" width="9.9" height="5.1" fill="#CECECE"/>
<rect x="377.22" y="150.91" width="9.9" height="5.1" fill="#CECECE"/>
<rect x="387.98" y="150.91" width="9.9" height="5.1" fill="#CECECE"/>
<rect x="398.74" y="150.91" width="9.9" height="5.1" fill="#CECECE"/>
<rect x="409.5" y="150.91" width="9.9" height="5.1" fill="#CECECE"/>
<rect x="32.9" y="156.98" width="9.9" height="5.1" fill="#CECECE"/>
<rect x="43.66" y="156.98" width="9.9" height="5.1" fill="#CECECE"/>
<rect x="54.42" y="156.98" width="9.9" height="5.1" fill="#CECECE"/>
<rect x="65.18" y="156.98" width="9.9" height="5.1" fill="#CECECE"/>
<rect x="75.94" y="156.98" width="9.9" height="5.1" fill="#CECECE"/>
<rect x="86.7" y="156.98" width="9.9" height="5.1" fill="#CECECE"/>
<rect x="97.46" y="156.98" width="9.9" height="5.1" fill="#CECECE"/>
<rect x="108.22" y="156.98" width="9.9" height="5.1" fill="#CECECE"/>
<rect x="118.98" y="156.98" width="9.9" height="5.1" fill="#CECECE"/>
<rect x="129.74" y="156.98" width="9.9" height="5.1" fill="#CECECE"/>
<rect x="140.5" y="156.98" width="9.9" height="5.1" fill="#CECECE"/>
<rect x="151.26" y="156.98" width="9.9" height="5.1" fill="#CECECE"/>
<rect x="162.02" y="156.98" width="9.9" height="5.1" fill="#CECECE"/>
<rect x="172.78" y="156.98" width="9.9" height="5.1" fill="#CECECE"/>
<rect x="183.54" y="156.98" width="9.9" height="5.1" fill="#CECECE"/>
<rect x="194.3" y="156.98" width="9.9" height="5.1" fill="#CECECE"/>
<rect x="205.06" y="156.98" width="9.9" height="5.1" fill="#CECECE"/>
<rect x="215.82" y="156.98" width="9.9" height="5.1" fill="#CECECE"/>
<rect x="226.58" y="156.98" width="9.9" height="5.1" fill="#CECECE"/>
<rect x="237.34" y="156.98" width="9.9" height="5.1" fill="#CECECE"/>
<rect x="248.1" y="156.98" width="9.9" height="5.1" fill="#CECECE"/>
<rect x="258.86" y="156.98" width="9.9" height="5.1" fill="#CECECE"/>
<rect x="269.62" y="156.98" width="9.9" height="5.1" fill="#CECECE"/>
<rect x="280.38" y="156.98" width="9.9" height="5.1" fill="#CECECE"/>
<rect x="291.14" y="156.98" width="9.9" height="5.1" fill="#CECECE"/>
<rect x="301.9" y="156.98" width="9.9" height="5.1" fill="#CECECE"/>
<rect x="312.66" y="156.98" width="9.9" height="5.1" fill="#CECECE"/>
<rect x="323.42" y="156.98" width="9.9" height="5.1" fill="#CECECE"/>
<rect x="334.18" y="156.98" width="9.9" height="5.1" fill="#CECECE"/>
<rect x="344.94" y="156.98" width="9.9" height="5.1" fill="#CECECE"/>
<rect x="355.7" y="156.98" width="9.9" height="5.1" fill="#CECECE"/>
<rect x="366.46" y="156.98" width="9.9" height="5.1" fill="#CECECE"/>
<rect x="377.22" y="156.98" width="9.9" height="5.1" fill="#CECECE"/>
<rect x="387.98" y="156.98" width="9.9" height="5.1" fill="#CECECE"/>
<rect x="398.74" y="156.98" width="9.9" height="5.1" fill="#CECECE"/>
<rect x="409.5" y="156.98" width="9.9" height="5.1" fill="#CECECE"/>
<rect x="32.9" y="163.05" width="9.9" height="5.1" fill="#CECECE"/>
<rect x="43.66" y="163.05" width="9.9" height="5.1" fill="#CECECE"/>
<rect x="54.42" y="163.05" width="9.9" height="5.1" fill="#CECECE"/>
<rect x="65.18" y="163.05" width="9.9" height="5.1" fill="#CECECE"/>
<rect x="75.94" y="163.05" width="9.9" height="5.1" fill="#CECECE"/>
<rect x="86.7" y="163.05" width="9.9" height="5.1" fill="#CECECE"/>
<rect x="97.46" y="163.05" width="9.9" height="5.1" fill="#CECECE"/>
<rect x="108.22" y="163.05" width="9.9" height="5.1" fill="#CECECE"/>
<rect x="118.98" y="163.05" width="9.9" height="5.1" fill="#CECECE"/>
<rect x="129.74" y="163.05" width="9.9" height="5.1" fill="#CECECE"/>
<rect x="140.5" y="163.05" width="9.9" height="5.1" fill="#CECECE"/>
<rect x="151.26" y="163.05" width="9.9" height="5.1" fill="#CECECE"/>
<rect x="162.02" y="163.05" width="9.9" height="5.1" fill="#CECECE"/>
<rect x="172.78" y="163.05" width="9.9" height="5.1" fill="#CECECE"/>
<rect x="183.54" y="163.05" width="9.9" height="5.1" fill="#CECECE"/>
<rect x="194.3" y="163.05" width="9.9" height="5.1" fill="#CECECE"/>
<rect x="205.06" y="163.05" width="9.9" height="5.1" fill="#CECECE"/>
<rect x="215.82" y="163.05" width="9.9" height="5.1" fill="#CECECE"/>
<rect x="226.58" y="163.05" width="9.9" height="5.1" fill="#CECECE"/>
<rect x="237.34" y="163.05" width="9.9" height="5.1" fill="#CECECE"/>
<rect x="248.1" y="163.05" width="9.9" height="5.1" fill="#CECECE"/>
<rect x="258.86" y="163.05" width="9.9" height="5.1" fill="#CECECE"/>
<rect x="269.62" y="163.05" width="9.9" height="5.1" fill="#CECECE"/>
<rect x="280.38" y="163.05" width="9.9" height="5.1" fill="#CECECE"/>
<rect x="291.14" y="163.05" width="9.9" height="5.1" fill="#CECECE"/>
<rect x="301.9" y="163.05" width="9.9" height="5.1" fill="#CECECE"/>
<rect x="312.66" y="163.05" width="9.9" height="5.1" fill="#CECECE"/>
<rect x="323.42" y="163.05" width="9.9" height="5.1" fill="#CECECE"/>
<rect x="334.18" y="163.05" width="9.9" height="5.1" fill="#CECECE"/>
<rect x="344.94" y="163.05" width="9.9" height="5.1" fill="#CECECE"/>
<rect x="355.7" y="163.05" width="9.9" height="5.1" fill="#CECECE"/>
<rect x="366.46" y="163.05" width="9.9" height="5.1" fill="#CECECE"/>
<rect x="377.22" y="163.05" width="9.9" height="5.1" fill="#CECECE"/>
<rect x="387.98" y="163.05" width="9.9" height="5.1" fill="#CECECE"/>
<rect x="398.74" y="163.05" width="9.9" height="5.1" fill="#CECECE"/>
<rect x="409.5" y="163.05" width="9.9" height="5.1" fill="#CECECE"/>
<rect x="32.9" y="169.12" width="9.9" height="5.1" fill="#CECECE"/>
<rect x="43.66" y="169.12" width="9.9" height="5.1" fill="#CECECE"/>
<rect x="54.42" y="169.12" width="9.9" height="5.1" fill="#CECECE"/>
<rect x="65.18" y="169.12" width="9.9" height="5.1" fill="#CECECE"/>
<rect x="75.94" y="169.12" width="9.9" height="5.1" fill="#CECECE"/>
<rect x="86.7" y="169.12" width="9.9" height="5.1" fill="#CECECE"/>
<rect x="97.46" y="169.12" width="9.9" height="5.1" fill="#CECECE"/>
<rect x="108.22" y="169.12" width="9.9" height="5.1" fill="#CECECE"/>
<rect x="118.98" y="169.12" width="9.9" height="5.1" fill="#CECECE"/>
<rect x="129.74" y="169.12" width="9.9" height="5.1" fill="#CECECE"/>
<rect x="140.5" y="169.12" width="9.9" height="5.1" fill="#CECECE"/>
<rect x="151.26" y="169.12" width="9.9" height="5.1" fill="#CECECE"/>
<rect x="162.02" y="169.12" width="9.9" height="5.1" fill="#CECECE"/>
<rect x="172.78" y="169.12" width="9.9" height="5.1" fill="#CECECE"/>
<rect x="183.54" y="169.12" width="9.9" height="5.1" fill="#CECECE"/>
<rect x="194.3" y="169.12" width="9.9" height="5.1" fill="#CECECE"/>
<rect x="205.06" y="169.12" width="9.9" height="5.1" fill="#CECECE"/>
<rect x="215.82" y="169.12" width="9.9" height="5.1" fill="#CECECE"/>
<rect x="226.58" y="169.12" width="9.9" height="5.1" fill="#CECECE"/>
<rect x="237.34" y="169.12" width="9.9" height="5.1" fill="#CECECE"/>
<rect x="248.1" y="169.12" width="9.9" height="5.1" fill="#CECECE"/>
<rect x="258.86" y="169.12" width="9.9" height="5.1" fill="#CECECE"/>
<rect x="269.62" y="169.12" width="9.9" height="5.1" fill="#CECECE"/>
<rect x="280.38" y="169.12" width="9.9" height="5.1" fill="#CECECE"/>
<rect x="291.14" y="169.12" width="9.9" height="5.1" fill="#CECECE"/>
<rect x="301.9" y="169.12" width="9.9" height="5.1" fill="#CECECE"/>
<rect x="312.66" y="169.12" width="9.9" height="5.1" fill="#CECECE"/>
<rect x="323.42" y="169.12" width="9.9" height="5.1" fill="#CECECE"/>
<rect x="334.18" y="169.12" width="9.9" height="5.1" fill="#CECECE"/>
<rect x="344.94" y="169.12" width="9.9" height="5.1" fill="#CECECE"/>
<rect x="355.7" y="169.12" width="9.9" height="5.1" fill="#CECECE"/>
<rect x="366.46" y="169.12" width="9.9" height="5.1" fill="#CECECE"/>
<rect x="377.22" y="169.12" width="9.9" height="5.1" fill="#CECECE"/>
<rect x="387.98" y="169.12" width="9.9" height="5.1" fill="#CECECE"/>
<rect x="398.74" y="169.12" width="9.9" height="5.1" fill="#CECECE"/>
<rect x="409.5" y="169.12" width="9.9" height="5.1" fill="#CECECE"/>
<rect x="32.9" y="175.19" width="9.9" height="5.1" fill="#CECECE"/>
<rect x="43.66" y="175.19" width="9.9" height="5.1" fill="#CECECE"/>
<rect x="54.42" y="175.19" width="9.9" height="5.1" fill="#CECECE"/>
<rect x="65.18" y="175.19" width="9.9" height="5.1" fill="#CECECE"/>
<rect x="75.94" y="175.19" width="9.9" height="5.1" fill="#CECECE"/>
<rect x="86.7" y="175.19" width="9.9" height="5.1" fill="#CECECE"/>
<rect x="97.46" y="175.19" width="9.9" height="5.1" fill="#CECECE"/>
<rect x="108.22" y="175.19" width="9.9" height="5.1" fill="#CECECE"/>
<rect x="118.98" y="175.19" width="9.9" height="5.1" fill="#CECECE"/>
<rect x="129.74" y="175.19" width="9.9" height="5.1" fill="#CECECE"/>
<rect x="140.5" y="175.19" width="9.9" height="5.1" fill="#CECECE"/>
<rect x="151.26" y="175.19" width="9.9" height="5.1" fill="#CECECE"/>
<rect x="162.02" y="175.19" width="9.9" height="5.1" fill="#CECECE"/>
<rect x="172.78" y="175.19" width="9.9" height="5.1" fill="#CECECE"/>
<rect x="183.54" y="175.19" width="9.9" height="5.1" fill="#CECECE"/>
<rect x="194.3" y="175.19" width="9.9" height="5.1" fill="#CECECE"/>
<rect x="205.06" y="175.19" width="9.9" height="5.1" fill="#CECECE"/>
<rect x="215.82" y="175.19" width="9.9" height="5.1" fill="#CECECE"/>
<rect x="226.58" y="175.19" width="9.9" height="5.1" fill="#CECECE"/>
<rect x="237.34" y="175.19" width="9.9" height="5.1" fill="#CECECE"/>
<rect x="248.1" y="175.19" width="9.9" height="5.1" fill="#CECECE"/>
<rect x="258.86" y="175.19" width="9.9" height="5.1" fill="#CECECE"/>
<rect x="269.62" y="175.19" width="9.9" height="5.1" fill="#CECECE"/>
<rect x="280.38" y="175.19" width="9.9" height="5.1" fill="#CECECE"/>
<rect x="291.14" y="175.19" width="9.9" height="5.1" fill="#CECECE"/>
<rect x="301.9" y="175.19" width="9.9" height="5.1" fill="#CECECE"/>
<rect x="312.66" y="175.19" width="9.9" height="5.1" fill="#CECECE"/>
<rect x="323.42" y="175.19" width="9.9" height="5.1" fill="#CECECE"/>
<rect x="334.18" y="175.19" width="9.9" height="5.1" fill="#CECECE"/>
<rect x="344.94" y="175.19" width="9.9" height="5.1" fill="#CECECE"/>
<rect x="355.7" y="175.19" width="9.9" height="5.1" fill="#CECECE"/>
<rect x="366.46" y="175.19" width="9.9" height="5.1" fill="#CECECE"/>
<rect x="377.22" y="175.19" width="9.9" height="5.1" fill="#CECECE"/>
<rect x="387.98" y="175.19" width="9.9" height="5.1" fill="#CECECE"/>
<rect x="398.74" y="175.19" width="9.9" height="5.1" fill="#CECECE"/>
<rect x="409.5" y="175.19" width="9.9" height="5.1" fill="#CECECE"/>
<rect x="32.9" y="181.26" width="9.9" height="5.1" fill="#CECECE"/>
<rect x="43.66" y="181.26" width="9.9" height="5.1" fill="#CECECE"/>
<rect x="54.42" y="181.26" width="9.9" height="5.1" fill="#CECECE"/>
<rect x="65.18" y="181.26" width="9.9" height="5.1" fill="#CECECE"/>
<rect x="75.94" y="181.26" width="9.9" height="5.1" fill="#CECECE"/>
<rect x="86.7" y="181.26" width="9.9" height="5.1" fill="#CECECE"/>
<rect x="97.46" y="181.26" width="9.9" height="5.1" fill="#CECECE"/>
<rect x="108.22" y="181.26" width="9.9" height="5.1" fill="#CECECE"/>
<rect x="118.98" y="181.26" width="9.9" height="5.1" fill="#CECECE"/>
<rect x="129.74" y="181.26" width="9.9" height="5.1" fill="#CECECE"/>
<rect x="140.5" y="181.26" width="9.9" height="5.1" fill="#CECECE"/>
<rect x="151.26" y="181.26" width="9.9" height="5.1" fill="#CECECE"/>
<rect x="162.02" y="181.26" width="9.9" height="5.1" fill="#CECECE"/>
<rect x="172.78" y="181.26" width="9.9" height="5.1" fill="#CECECE"/>
<rect x="183.54" y="181.26" width="9.9" height="5.1" fill="#CECECE"/>
<rect x="194.3" y="181.26" width="9.9" height="5.1" fill="#CECECE"/>
<rect x="205.06" y="181.26" width="9.9" height="5.1" fill="#CECECE"/>
<rect x="215.82" y="181.26" width="9.9" height="5.1" fill="#CECECE"/>
<rect x="226.58" y="181.26" width="9.9" height="5.1" fill="#CECECE"/>
<rect x="237.34" y="181.26" width="9.9" height="5.1" fill="#CECECE"/>
<rect x="248.1" y="181.26" width="9.9" height="5.1" fill="#CECECE"/>
<rect x="258.86" y="181.26" width="9.9" height="5.1" fill="#CECECE"/>
<rect x="269.62" y="181.26" width="9.9" height="5.1" fill="#CECECE"/>
<rect x="280.38" y="181.26" width="9.9" height="5.1" fill="#CECECE"/>
<rect x="291.14" y="181.26" width="9.9" height="5.1" fill="#CECECE"/>
<rect x="301.9" y="181.26" width="9.9" height="5.1" fill="#CECECE"/>
<rect x="312.66" y="181.26" width="9.9" height="5.1" fill="#CECECE"/>
<rect x="323.42" y="181.26" width="9.9" height="5.1" fill="#CECECE"/>
<rect x="334.18" y="181.26" width="9.9" height="5.1" fill="#CECECE"/>
<rect x="344.94" y="181.26" width="9.9" height="5.1" fill="#CECECE"/>
<rect x="355.7" y="181.26" width="9.9" height="5.1" fill="#CECECE"/>
<rect x="366.46" y="181.26" width="9.9" height="5.1" fill="#CECECE"/>
<rect x="377.22" y="181.26" width="9.9" height="5.1" fill="#CECECE"/>
<rect x="387.98" y="181.26" width="9.9" height="5.1" fill="#CECECE"/>
<rect x="398.74" y="181.26" width="9.9" height="5.1" fill="#CECECE"/>
<rect x="409.5" y="181.26" width="9.9" height="5.1" fill="#CECECE"/>
<rect x="32.9" y="187.33" width="9.9" height="5.1" fill="#CECECE"/>
<rect x="43.66" y="187.33" width="9.9" height="5.1" fill="#CECECE"/>
<rect x="54.42" y="187.33" width="9.9" height="5.1" fill="#CECECE"/>
<rect x="65.18" y="187.33" width="9.9" height="5.1" fill="#CECECE"/>
<rect x="75.94" y="187.33" width="9.9" height="5.1" fill="#CECECE"/>
<rect x="86.7" y="187.33" width="9.9" height="5.1" fill="#CECECE"/>
<rect x="97.46" y="187.33" width="9.9" height="5.1" fill="#CECECE"/>
<rect x="108.22" y="187.33" width="9.9" height="5.1" fill="#CECECE"/>
<rect x="118.98" y="187.33" width="9.9" height="5.1" fill="#CECECE"/>
<rect x="129.74" y="187.33" width="9.9" height="5.1" fill="#CECECE"/>
<rect x="140.5" y="187.33" width="9.9" height="5.1" fill="#CECECE"/>
<rect x="151.26" y="187.33" width="9.9" height="5.1" fill="#CECECE"/>
<rect x="162.02" y="187.33" width="9.9" height="5.1" fill="#CECECE"/>
<rect x="172.78" y="187.33" width="9.9" height="5.1" fill="#CECECE"/>
<rect x="183.54" y="187.33" width="9.9" height="5.1" fill="#CECECE"/>
<rect x="194.3" y="187.33" width="9.9" height="5.1" fill="#CECECE"/>
<rect x="205.06" y="187.33" width="9.9" height="5.1" fill="#CECECE"/>
<rect x="215.82" y="187.33" width="9.9" height="5.1" fill="#CECECE"/>
<rect x="226.58" y="187.33" width="9.9" height="5.1" fill="#CECECE"/>
<rect x="237.34" y="187.33" width="9.9" height="5.1" fill="#CECECE"/>
<rect x="248.1" y="187.33" width="9.9" height="5.1" fill="#CECECE"/>
<rect x="258.86" y="187.33" width="9.9" height="5.1" fill="#CECECE"/>
<rect x="269.62" y="187.33" width="9.9" height="5.1" fill="#CECECE"/>
<rect x="280.38" y="187.33" width="9.9" height="5.1" fill="#CECECE"/>
<rect x="291.14" y="187.33" width="9.9" height="5.1" fill="#CECECE"/>
<rect x="301.9" y="187.33" width="9.9" height="5.1" fill="#CECECE"/>
<rect x="312.66" y="187.33" width="9.9" height="5.1" fill="#CECECE"/>
<rect x="323.42" y="187.33" width="9.9" height="5.1" fill="#CECECE"/>
<rect x="334.18" y="187.33" width="9.9" height="5.1" fill="#CECECE"/>
<rect x="344.94" y="187.33" width="9.9" height="5.1" fill="#CECECE"/>
<rect x="355.7" y="187.33" width="9.9" height="5.1" fill="#CECECE"/>
<rect x="366.46" y="187.33" width="9.9" height="5.1" fill="#CECECE"/>
<rect x="377.22" y="187.33" width="9.9" height="5.1" fill="#CECECE"/>
<rect x="387.98" y="187.33" width="9.9" height="5.1" fill="#CECECE"/>
<rect x="398.74" y="187.33" width="9.9" height="5.1" fill="#CECECE"/>
<rect x="409.5" y="187.33" width="9.9" height="5.1" fill="#CECECE"/>
<rect x="32.9" y="193.4" width="9.9" height="5.1" fill="#CECECE"/>
<rect x="43.66" y="193.4" width="9.9" height="5.1" fill="#CECECE"/>
<rect x="54.42" y="193.4" width="9.9" height="5.1" fill="#CECECE"/>
<rect x="65.18" y="193.4" width="9.9" height="5.1" fill="#CECECE"/>
<rect x="75.94" y="193.4" width="9.9" height="5.1" fill="#CECECE"/>
<rect x="86.7" y="193.4" width="9.9" height="5.1" fill="#CECECE"/>
<rect x="97.46" y="193.4" width="9.9" height="5.1" fill="#CECECE"/>
<rect x="108.22" y="193.4" width="9.9" height="5.1" fill="#CECECE"/>
<rect x="118.98" y="193.4" width="9.9" height="5.1" fill="#CECECE"/>
<rect x="129.74" y="193.4" width="9.9" height="5.1" fill="#CECECE"/>
<rect x="140.5" y="193.4" width="9.9" height="5.1" fill="#CECECE"/>
<rect x="151.26" y="193.4" width="9.9" height="5.1" fill="#CECECE"/>
<rect x="162.02" y="193.4" width="9.9" height="5.1" fill="#CECECE"/>
<rect x="172.78" y="193.4" width="9.9" height="5.1" fill="#CECECE"/>
<rect x="183.54" y="193.4" width="9.9" height="5.1" fill="#CECECE"/>
<rect x="194.3" y="193.4" width="9.9" height="5.1" fill="#CECECE"/>
<rect x="205.06" y="193.4" width="9.9" height="5.1" fill="#CECECE"/>
<rect x="215.82" y="193.4" width="9.9" height="5.1" fill="#CECECE"/>
<rect x="226.58" y="193.4" width="9.9" height="5.1" fill="#CECECE"/>
<rect x="237.34" y="193.4" width="9.9" height="5.1" fill="#CECECE"/>
<rect x="248.1" y="193.4" width="9.9" height="5.1" fill="#CECECE"/>
<rect x="258.86" y="193.4" width="9.9" height="5.1" fill="#CECECE"/>
<rect x="269.62" y="193.4" width="9.9" height="5.1" fill="#CECECE"/>
<rect x="280.38" y="193.4" width="9.9" height="5.1" fill="#CECECE"/>
<rect x="291.14" y="193.4" width="9.9" height="5.1" fill="#CECECE"/>
<rect x="301.9" y="193.4" width="9.9" height="5.1" fill="#CECECE"/>
<rect x="312.66" y="193.4" width="9.9" height="5.1" fill="#CECECE"/>
<rect x="323.42" y="193.4" width="9.9" height="5.1" fill="#CECECE"/>
<rect x="334.18" y="193.4" width="9.9" height="5.1" fill="#CECECE"/>
<rect x="344.94" y="193.4" width="9.9" height="5.1" fill="#CECECE"/>
<rect x="355.7" y="193.4" width="9.9" height="5.1" fill="#CECECE"/>
<rect x="366.46" y="193.4" width="9.9" height="5.1" fill="#CECECE"/>
<rect x="377.22" y="193.4" width="9.9" height="5.1" fill="#CECECE"/>
<rect x="387.98" y="193.4" width="9.9" height="5.1" fill="#CECECE"/>
<rect x="398.74" y="193.4" width="9.9" height="5.1" fill="#CECECE"/>
<rect x="409.5" y="193.4" width="9.9" height="5.1" fill="#CECECE"/>
<rect x="32.9" y="199.47" width="9.9" height="5.1" fill="#CECECE"/>
<rect x="43.66" y="199.47" width="9.9" height="5.1" fill="#CECECE"/>
<rect x="54.42" y="199.47" width="9.9" height="5.1" fill="#CECECE"/>
<rect x="65.18" y="199.47" width="9.9" height="5.1" fill="#CECECE"/>
<rect x="75.94" y="199.47" width="9.9" height="5.1" fill="#CECECE"/>
<rect x="86.7" y="199.47" width="9.9" height="5.1" fill="#CECECE"/>
<rect x="97.46" y="199.47" width="9.9" height="5.1" fill="#CECECE"/>
<rect x="108.22" y="199.47" width="9.9" height="5.1" fill="#CECECE"/>
<rect x="118.98" y="199.47" width="9.9" height="5.1" fill="#CECECE"/>
<rect x="129.74" y="199.47" width="9.9" height="5.1" fill="#CECECE"/>
<rect x="140.5" y="199.47" width="9.9" height="5.1" fill="#CECECE"/>
<rect x="151.26" y="199.47" width="9.9" height="5.1" fill="#CECECE"/>
<rect x="162.02" y="199.47" width="9.9" height="5.1" fill="#CECECE"/>
<rect x="172.78" y="199.47" width="9.9" height="5.1" fill="#CECECE"/>
<rect x="183.54" y="199.47" width="9.9" height="5.1" fill="#CECECE"/>
<rect x="194.3" y="199.47" width="9.9" height="5.1" fill="#CECECE"/>
<rect x="205.06" y="199.47" width="9.9" height="5.1" fill="#CECECE"/>
<rect x="215.82" y="199.47" width="9.9" height="5.1" fill="#CECECE"/>
<rect x="226.58" y="199.47" width="9.9" height="5.1" fill="#CECECE"/>
<rect x="237.34" y="199.47" width="9.9" height="5.1" fill="#CECECE"/>
<rect x="248.1" y="199.47" width="9.9" height="5.1" fill="#CECECE"/>
<rect x="258.86" y="199.47" width="9.9" height="5.1" fill="#CECECE"/>
<rect x="269.62" y="199.47" width="9.9" height="5.1" fill="#CECECE"/>
<rect x="280.38" y="199.47" width="9.9" height="5.1" fill="#CECECE"/>
<rect x="291.14" y="199.47" width="9.9" height="5.1" fill="#CECECE"/>
<rect x="301.9" y="199.47" width="9.9" height="5.1" fill="#CECECE"/>
<rect x="312.66" y="199.47" width="9.9" height="5.1" fill="#CECECE"/>
<rect x="323.42" y="199.47" width="9.9" height="5.1" fill="#CECECE"/>
<rect x="334.18" y="199.47" width="9.9" height="5.1" fill="#CECECE"/>
<rect x="344.94" y="199.47" width="9.9" height="5.1" fill="#CECECE"/>
<rect x="355.7" y="199.47" width="9.9" height="5.1" fill="#CECECE"/>
<rect x="366.46" y="199.47" width="9.9" height="5.1" fill="#CECECE"/>
<rect x="377.22" y="199.47" width="9.9" height="5.1" fill="#CECECE"/>
<rect x="387.98" y="199.47" width="9.9" height="5.1" fill="#CECECE"/>
<rect x="398.74" y="199.47" width="9.9" height="5.1" fill="#CECECE"/>
<rect x="409.5" y="199.47" width="9.9" height="5.1" fill="#CECECE"/>
<rect x="32.9" y="205.54" width="9.9" height="5.1" fill="#CECECE"/>
<rect x="43.66" y="205.54" width="9.9" height="5.1" fill="#CECECE"/>
<rect x="54.42" y="205.54" width="9.9" height="5.1" fill="#CECECE"/>
<rect x="65.18" y="205.54" width="9.9" height="5.1" fill="#CECECE"/>
<rect x="75.94" y="205.54" width="9.9" height="5.1" fill="#CECECE"/>
<rect x="86.7" y="205.54" width="9.9" height="5.1" fill="#CECECE"/>
<rect x="97.46" y="205.54" width="9.9" height="5.1" fill="#CECECE"/>
<rect x="108.22" y="205.54" width="9.9" height="5.1" fill="#CECECE"/>
<rect x="118.98" y="205.54" width="9.9" height="5.1" fill="#CECECE"/>
<rect x="129.74" y="205.54" width="9.9" height="5.1" fill="#CECECE"/>
<rect x="140.5" y="205.54" width="9.9" height="5.1" fill="#CECECE"/>
<rect x="151.26" y="205.54" width="9.9" height="5.1" fill="#CECECE"/>
<rect x="162.02" y="205.54" width="9.9" height="5.1" fill="#CECECE"/>
<rect x="172.78" y="205.54" width="9.9" height="5.1" fill="#CECECE"/>
<rect x="183.54" y="205.54" width="9.9" height="5.1" fill="#CECECE"/>
<rect x="194.3" y="205.54" width="9.9" height="5.1" fill="#CECECE"/>
<rect x="205.06" y="205.54" width="9.9" height="5.1" fill="#CECECE"/>
<rect x="215.82" y="205.54" width="9.9" height="5.1" fill="#CECECE"/>
<rect x="226.58" y="205.54" width="9.9" height="5.1" fill="#CECECE"/>
<rect x="237.34" y="205.54" width="9.9" height="5.1" fill="#CECECE"/>
<rect x="248.1" y="205.54" width="9.9" height="5.1" fill="#CECECE"/>
<rect x="258.86" y="205.54" width="9.9" height="5.1" fill="#CECECE"/>
<rect x="269.62" y="205.54" width="9.9" height="5.1" fill="#CECECE"/>
<rect x="280.38" y="205.54" width="9.9" height="5.1" fill="#CECECE"/>
<rect x="291.14" y="205.54" width="9.9" height="5.1" fill="#CECECE"/>
<rect x="301.9" y="205.54" width="9.9" height="5.1" fill="#CECECE"/>
<rect x="312.66" y="205.54" width="9.9" height="5.1" fill="#CECECE"/>
<rect x="323.42" y="205.54" width="9.9" height="5.1" fill="#CECECE"/>
<rect x="334.18" y="205.54" width="9.9" height="5.1" fill="#CECECE"/>
<rect x="344.94" y="205.54" width="9.9" height="5.1" fill="#CECECE"/>
<rect x="355.7" y="205.54" width="9.9" height="5.1" fill="#CECECE"/>
<rect x="366.46" y="205.54" width="9.9" height="5.1" fill="#CECECE"/>
<rect x="377.22" y="205.54" width="9.9" height="5.1" fill="#CECECE"/>
<rect x="387.98" y="205.54" width="9.9" height="5.1" fill="#CECECE"/>
<rect x="398.74" y="205.54" width="9.9" height="5.1" fill="#CECECE"/>
<rect x="409.5" y="205.54" width="9.9" height="5.1" fill="#CECECE"/>
<rect x="32.9" y="211.61" width="9.9" height="5.1" fill="#CECECE"/>
<rect x="43.66" y="211.61" width="9.9" height="5.1" fill="#CECECE"/>
<rect x="54.42" y="211.61" width="9.9" height="5.1" fill="#CECECE"/>
<rect x="65.18" y="211.61" width="9.9" height="5.1" fill="#CECECE"/>
<rect x="75.94" y="211.61" width="9.9" height="5.1" fill="#CECECE"/>
<rect x="86.7" y="211.61" width="9.9" height="5.1" fill="#CECECE"/>
<rect x="97.46" y="211.61" width="9.9" height="5.1" fill="#CECECE"/>
<rect x="108.22" y="211.61" width="9.9" height="5.1" fill="#CECECE"/>
<rect x="118.98" y="211.61" width="9.9" height="5.1" fill="#CECECE"/>
<rect x="129.74" y="211.61" width="9.9" height="5.1" fill="#CECECE"/>
<rect x="140.5" y="211.61" width="9.9" height="5.1" fill="#CECECE"/>
<rect x="151.26" y="211.61" width="9.9" height="5.1" fill="#CECECE"/>
<rect x="162.02" y="211.61" width="9.9" height="5.1" fill="#CECECE"/>
<rect x="172.78" y="211.61" width="9.9" height="5.1" fill="#CECECE"/>
<rect x="183.54" y="211.61" width="9.9" height="5.1" fill="#CECECE"/>
<rect x="194.3" y="211.61" width="9.9" height="5.1" fill="#CECECE"/>
<rect x="205.06" y="211.61" width="9.9" height="5.1" fill="#CECECE"/>
<rect x="215.82" y="211.61" width="9.9" height="5.1" fill="#CECECE"/>
<rect x="226.58" y="211.61" width="9.9" height="5.1" fill="#CECECE"/>
<rect x="237.34" y="211.61" width="9.9" height="5.1" fill="#CECECE"/>
<rect x="248.1" y="211.61" width="9.9" height="5.1" fill="#CECECE"/>
<rect x="258.86" y="211.61" width="9.9" height="5.1" fill="#CECECE"/>
<rect x="269.62" y="211.61" width="9.9" height="5.1" fill="#CECECE"/>
<rect x="280.38" y="211.61" width="9.9" height="5.1" fill="#CECECE"/>
<rect x="291.14" y="211.61" width="9.9" height="5.1" fill="#CECECE"/>
<rect x="301.9" y="211.61" width="9.9" height="5.1" fill="#CECECE"/>
<rect x="312.66" y="211.61" width="9.9" height="5.1" fill="#CECECE"/>
<rect x="323.42" y="211.61" width="9.9" height="5.1" fill="#CECECE"/>
<rect x="334.18" y="211.61" width="9.9" height="5.1" fill="#CECECE"/>
<rect x="344.94" y="211.61" width="9.9" height="5.1" fill="#CECECE"/>
<rect x="355.7" y="211.61" width="9.9" height="5.1" fill="#CECECE"/>
<rect x="366.46" y="211.61" width="9.9" height="5.1" fill="#CECECE"/>
<rect x="377.22" y="211.61" width="9.9" height="5.1" fill="#CECECE"/>
<rect x="387.98" y="211.61" width="9.9" height="5.1" fill="#CECECE"/>
<rect x="398.74" y="211.61" width="9.9" height="5.1" fill="#CECECE"/>
<rect x="409.5" y="211.61" width="9.9" height="5.1" fill="#CECECE"/>
<rect x="32.9" y="217.68" width="9.9" height="5.1" fill="#CECECE"/>
<rect x="43.66" y="217.68" width="9.9" height="5.1" fill="#CECECE"/>
<rect x="54.42" y="217.68" width="9.9" height="5.1" fill="#CECECE"/>
<rect x="65.18" y="217.68" width="9.9" height="5.1" fill="#CECECE"/>
<rect x="75.94" y="217.68" width="9.9" height="5.1" fill="#CECECE"/>
<rect x="86.7" y="217.68" width="9.9" height="5.1" fill="#CECECE"/>
<rect x="97.46" y="217.68" width="9.9" height="5.1" fill="#CECECE"/>
<rect x="108.22" y="217.68" width="9.9" height="5.1" fill="#CECECE"/>
<rect x="118.98" y="217.68" width="9.9" height="5.1" fill="#CECECE"/>
<rect x="129.74" y="217.68" width="9.9" height="5.1" fill="#CECECE"/>
<rect x="140.5" y="217.68" width="9.9" height="5.1" fill="#CECECE"/>
<rect x="151.26" y="217.68" width="9.9" height="5.1" fill="#CECECE"/>
<rect x="162.02" y="217.68" width="9.9" height="5.1" fill="#CECECE"/>
<rect x="172.78" y="217.68" width="9.9" height="5.1" fill="#CECECE"/>
<rect x="183.54" y="217.68" width="9.9" height="5.1" fill="#CECECE"/>
<rect x="194.3" y="217.68" width="9.9" height="5.1" fill="#CECECE"/>
<rect x="205.06" y="217.68" width="9.9" height="5.1" fill="#CECECE"/>
<rect x="215.82" y="217.68" width="9.9" height="5.1" fill="#CECECE"/>
<rect x="226.58" y="217.68" width="9.9" height="5.1" fill="#CECECE"/>
<rect x="237.34" y="217.68" width="9.9" height="5.1" fill="#CECECE"/>
<rect x="248.1" y="217.68" width="9.9" height="5.1" fill="#CECECE"/>
<rect x="258.86" y="217.68" width="9.9" height="5.1" fill="#CECECE"/>
<rect x="269.62" y="217.68" width="9.9" height="5.1" fill="#CECECE"/>
<rect x="280.38" y="217.68" width="9.9" height="5.1" fill="#CECECE"/>
<rect x="291.14" y="217.68" width="9.9" height="5.1" fill="#CECECE"/>
<rect x="301.9" y="217.68" width="9.9" height="5.1" fill="#CECECE"/>
<rect x="312.66" y="217.68" width="9.9" height="5.1" fill="#CECECE"/>
<rect x="323.42" y="217.68" width="9.9" height="5.1" fill="#CECECE"/>
<rect x="334.18" y="217.68" width="9.9" height="5.1" fill="#CECECE"/>
<rect x="344.94" y="217.68" width="9.9" height="5.1" fill="#CECECE"/>
<rect x="355.7" y="217.68" width="9.9" height="5.1" fill="#CECECE"/>
<rect x="366.46" y="217.68" width="9.9" height="5.1" fill="#CECECE"/>
<rect x="377.22" y="217.68" width="9.9" height="5.1" fill="#CECECE"/>
<rect x="387.98" y="217.68" width="9.9" height="5.1" fill="#CECECE"/>
<rect x="398.74" y="217.68" width="9.9" height="5.1" fill="#CECECE"/>
<rect x="409.5" y="217.68" width="9.9" height="5.1" fill="#CECECE"/>
<rect x="32.9" y="223.75" width="9.9" height="5.1" fill="#CECECE"/>
<rect x="43.66" y="223.75" width="9.9" height="5.1" fill="#CECECE"/>
<rect x="54.42" y="223.75" width="9.9" height="5.1" fill="#CECECE"/>
<rect x="65.18" y="223.75" width="9.9" height="5.1" fill="#CECECE"/>
<rect x="75.94" y="223.75" width="9.9" height="5.1" fill="#CECECE"/>
<rect x="86.7" y="223.75" width="9.9" height="5.1" fill="#CECECE"/>
<rect x="97.46" y="223.75" width="9.9" height="5.1" fill="#CECECE"/>
<rect x="108.22" y="223.75" width="9.9" height="5.1" fill="#CECECE"/>
<rect x="118.98" y="223.75" width="9.9" height="5.1" fill="#CECECE"/>
<rect x="129.74" y="223.75" width="9.9" height="5.1" fill="#CECECE"/>
<rect x="140.5" y="223.75" width="9.9" height="5.1" fill="#CECECE"/>
<rect x="151.26" y="223.75" width="9.9" height="5.1" fill="#CECECE"/>
<rect x="162.02" y="223.75" width="9.9" height="5.1" fill="#CECECE"/>
<rect x="172.78" y="223.75" width="9.9" height="5.1" fill="#CECECE"/>
<rect x="183.54" y="223.75" width="9.9" height="5.1" fill="#CECECE"/>
<rect x="194.3" y="223.75" width="9.9" height="5.1" fill="#CECECE"/>
<rect x="205.06" y="223.75" width="9.9" height="5.1" fill="#CECECE"/>
<rect x="215.82" y="223.75" width="9.9" height="5.1" fill="#CECECE"/>
<rect x="226.58" y="223.75" width="9.9" height="5.1" fill="#CECECE"/>
<rect x="237.34" y="223.75" width="9.9" height="5.1" fill="#CECECE"/>
<rect x="248.1" y="223.75" width="9.9" height="5.1" fill="#CECECE"/>
<rect x="258.86" y="223.75" width="9.9" height="5.1" fill="#CECECE"/>
<rect x="269.62" y="223.75" width="9.9" height="5.1" fill="#CECECE"/>
<rect x="280.38" y="223.75" width="9.9" height="5.1" fill="#CECECE"/>
<rect x="291.14" y="223.75" width="9.9" height="5.1" fill="#CECECE"/>
<rect x="301.9" y="223.75" width="9.9" height="5.1" fill="#CECECE"/>
<rect x="312.66" y="223.75" width="9.9" height="5.1" fill="#CECECE"/>
<rect x="323.42" y="223.75" width="9.9" height="5.1" fill="#CECECE"/>
<rect x="334.18" y="223.75" width="9.9" height="5.1" fill="#CECECE"/>
<rect x="344.94" y="223.75" width="9.9" height="5.1" fill="#CECECE"/>
<rect x="355.7" y="223.75" width="9.9" height="5.1" fill="#CECECE"/>
<rect x="366.46" y="223.75" width="9.9" height="5.1" fill="#CECECE"/>
<rect x="377.22" y="223.75" width="9.9" height="5.1" fill="#CECECE"/>
<rect x="387.98" y="223.75" width="9.9" height="5.1" fill="#CECECE"/>
<rect x="398.74" y="223.75" width="9.9" height="5.1" fill="#CECECE"/>
<rect x="409.5" y="223.75" width="9.9" height="5.1" fill="#CECECE"/>
<rect x="32.9" y="229.82" width="9.9" height="5.1" fill="#CECECE"/>
<rect x="43.66" y="229.82" width="9.9" height="5.1" fill="#CECECE"/>
<rect x="54.42" y="229.82" width="9.9" height="5.1" fill="#CECECE"/>
<rect x="65.18" y="229.82" width="9.9" height="5.1" fill="#CECECE"/>
<rect x="75.94" y="229.82" width="9.9" height="5.1" fill="#CECECE"/>
<rect x="86.7" y="229.82" width="9.9" height="5.1" fill="#CECECE"/>
<rect x="97.46" y="229.82" width="9.9" height="5.1" fill="#CECECE"/>
<rect x="108.22" y="229.82" width="9.9" height="5.1" fill="#CECECE"/>
<rect x="118.98" y="229.82" width="9.9" height="5.1" fill="#CECECE"/>
<rect x="129.74" y="229.82" width="9.9" height="5.1" fill="#CECECE"/>
<rect x="140.5" y="229.82" width="9.9" height="5.1" fill="#CECECE"/>
<rect x="151.26" y="229.82" width="9.9" height="5.1" fill="#CECECE"/>
<rect x="162.02" y="229.82" width="9.9" height="5.1" fill="#CECECE"/>
<rect x="172.78" y="229.82" width="9.9" height="5.1" fill="#CECECE"/>
<rect x="183.54" y="229.82" width="9.9" height="5.1" fill="#CECECE"/>
<rect x="194.3" y="229.82" width="9.9" height="5.1" fill="#CECECE"/>
<rect x="205.06" y="229.82" width="9.9" height="5.1" fill="#CECECE"/>
<rect x="215.82" y="229.82" width="9.9" height="5.1" fill="#CECECE"/>
<rect x="226.58" y="229.82" width="9.9" height="5.1" fill="#CECECE"/>
<rect x="237.34" y="229.82" width="9.9" height="5.1" fill="#CECECE"/>
<rect x="248.1" y="229.82" width="9.9" height="5.1" fill="#CECECE"/>
<rect x="258.86" y="229.82" width="9.9" height="5.1" fill="#CECECE"/>
<rect x="269.62" y="229.82" width="9.9" height="5.1" fill="#CECECE"/>
<rect x="280.38" y="229.82" width="9.9" height="5.1" fill="#CECECE"/>
<rect x="291.14" y="229.82" width="9.9" height="5.1" fill="#CECECE"/>
<rect x="301.9" y="229.82" width="9.9" height="5.1" fill="#CECECE"/>
<rect x="312.66" y="229.82" width="9.9" height="5.1" fill="#CECECE"/>
<rect x="323.42" y="229.82" width="9.9" height="5.1" fill="#CECECE"/>
<rect x="334.18" y="229.82" width="9.9" height="5.1" fill="#CECECE"/>
<rect x="344.94" y="229.82" width="9.9" height="5.1" fill="#CECECE"/>
<rect x="355.7" y="229.82" width="9.9" height="5.1" fill="#CECECE"/>
<rect x="366.46" y="229.82" width="9.9" height="5.1" fill="#CECECE"/>
<rect x="377.22" y="229.82" width="9.9" height="5.1" fill="#CECECE"/>
<rect x="387.98" y="229.82" width="9.9" height="5.1" fill="#CECECE"/>
<rect x="398.74" y="229.82" width="9.9" height="5.1" fill="#CECECE"/>
<rect x="409.5" y="229.82" width="9.9" height="5.1" fill="#CECECE"/>
<rect x="32.9" y="235.89" width="9.9" height="5.1" fill="#CECECE"/>
<rect x="43.66" y="235.89" width="9.9" height="5.1" fill="#CECECE"/>
<rect x="54.42" y="235.89" width="9.9" height="5.1" fill="#CECECE"/>
<rect x="65.18" y="235.89" width="9.9" height="5.1" fill="#CECECE"/>
<rect x="75.94" y="235.89" width="9.9" height="5.1" fill="#CECECE"/>
<rect x="86.7" y="235.89" width="9.9" height="5.1" fill="#CECECE"/>
<rect x="97.46" y="235.89" width="9.9" height="5.1" fill="#CECECE"/>
<rect x="108.22" y="235.89" width="9.9" height="5.1" fill="#CECECE"/>
<rect x="118.98" y="235.89" width="9.9" height="5.1" fill="#CECECE"/>
<rect x="129.74" y="235.89" width="9.9" height="5.1" fill="#CECECE"/>
<rect x="140.5" y="235.89" width="9.9" height="5.1" fill="#CECECE"/>
<rect x="151.26" y="235.89" width="9.9" height="5.1" fill="#CECECE"/>
<rect x="162.02" y="235.89" width="9.9" height="5.1" fill="#CECECE"/>
<rect x="172.78" y="235.89" width="9.9" height="5.1" fill="#CECECE"/>
<rect x="183.54" y="235.89" width="9.9" height="5.1" fill="#CECECE"/>
<rect x="194.3" y="235.89" width="9.9" height="5.1" fill="#CECECE"/>
<rect x="205.06" y="235.89" width="9.9" height="5.1" fill="#CECECE"/>
<rect x="215.82" y="235.89" width="9.9" height="5.1" fill="#CECECE"/>
<rect x="226.58" y="235.89" width="9.9" height="5.1" fill="#CECECE"/>
<rect x="237.34" y="235.89" width="9.9" height="5.1" fill="#CECECE"/>
<rect x="248.1" y="235.89" width="9.9" height="5.1" fill="#CECECE"/>
<rect x="258.86" y="235.89" width="9.9" height="5.1" fill="#CECECE"/>
<rect x="269.62" y="235.89" width="9.9" height="5.1" fill="#CECECE"/>
<rect x="280.38" y="235.89" width="9.9" height="5.1" fill="#CECECE"/>
<rect x="291.14" y="235.89" width="9.9" height="5.1" fill="#CECECE"/>
<rect x="301.9" y="235.89" width="9.9" height="5.1" fill="#CECECE"/>
<rect x="312.66" y="235.89" width="9.9" height="5.1" fill="#CECECE"/>
<rect x="323.42" y="235.89" width="9.9" height="5.1" fill="#CECECE"/>
<rect x="334.18" y="235.89" width="9.9" height="5.1" fill="#CECECE"/>
<rect x="344.94" y="235.89" width="9.9" height="5.1" fill="#CECECE"/>
<rect x="355.7" y="235.89" width="9.9" height="5.1" fill="#CECECE"/>
<rect x="366.46" y="235.89" width="9.9" height="5.1" fill="#CECECE"/>
<rect x="377.22" y="235.89" width="9.9" height="5.1" fill="#CECECE"/>
<rect x="387.98" y="235.89" width="9.9" height="5.1" fill="#CECECE"/>
<rect x="398.74" y="235.89" width="9.9" height="5.1" fill="#CECECE"/>
<rect x="409.5" y="235.89" width="9.9" height="5.1" fill="#CECECE"/>
<rect x="32.9" y="241.96" width="9.9" height="5.1" fill="#CECECE"/>
<rect x="43.66" y="241.96" width="9.9" height="5.1" fill="#CECECE"/>
<rect x="54.42" y="241.96" width="9.9" height="5.1" fill="#CECECE"/>
<rect x="65.18" y="241.96" width="9.9" height="5.1" fill="#CECECE"/>
<rect x="75.94" y="241.96" width="9.9" height="5.1" fill="#CECECE"/>
<rect x="86.7" y="241.96" width="9.9" height="5.1" fill="#CECECE"/>
<rect x="97.46" y="241.96" width="9.9" height="5.1" fill="#CECECE"/>
<rect x="108.22" y="241.96" width="9.9" height="5.1" fill="#CECECE"/>
<rect x="118.98" y="241.96" width="9.9" height="5.1" fill="#CECECE"/>
<rect x="129.74" y="241.96" width="9.9" height="5.1" fill="#CECECE"/>
<rect x="140.5" y="241.96" width="9.9" height="5.1" fill="#CECECE"/>
<rect x="151.26" y="241.96" width="9.9" height="5.1" fill="#CECECE"/>
<rect x="162.02" y="241.96" width="9.9" height="5.1" fill="#CECECE"/>
<rect x="172.78" y="241.96" width="9.9" height="5.1" fill="#CECECE"/>
<rect x="183.54" y="241.96" width="9.9" height="5.1" fill="#CECECE"/>
<rect x="194.3" y="241.96" width="9.9" height="5.1" fill="#CECECE"/>
<rect x="205.06" y="241.96" width="9.9" height="5.1" fill="#CECECE"/>
<rect x="215.82" y="241.96" width="9.9" height="5.1" fill="#CECECE"/>
<rect x="226.58" y="241.96" width="9.9" height="5.1" fill="#CECECE"/>
<rect x="237.34" y="241.96" width="9.9" height="5.1" fill="#CECECE"/>
<rect x="248.1" y="241.96" width="9.9" height="5.1" fill="#CECECE"/>
<rect x="258.86" y="241.96" width="9.9" height="5.1" fill="#CECECE"/>
<rect x="269.62" y="241.96" width="9.9" height="5.1" fill="#CECECE"/>
<rect x="280.38" y="241.96" width="9.9" height="5.1" fill="#CECECE"/>
<rect x="291.14" y="241.96" width="9.9" height="5.1" fill="#CECECE"/>
<rect x="301.9" y="241.96" width="9.9" height="5.1" fill="#CECECE"/>
<rect x="312.66" y="241.96" width="9.9" height="5.1" fill="#CECECE"/>
<rect x="323.42" y="241.96" width="9.9" height="5.1" fill="#CECECE"/>
<rect x="334.18" y="241.96" width="9.9" height="5.1" fill="#CECECE"/>
<rect x="344.94" y="241.96" width="9.9" height="5.1" fill="#CECECE"/>
<rect x="355.7" y="241.96" width="9.9" height="5.1" fill="#CECECE"/>
<rect x="366.46" y="241.96" width="9.9" height="5.1" fill="#CECECE"/>
<rect x="377.22" y="241.96" width="9.9" height="5.1" fill="#CECECE"/>
<rect x="387.98" y="241.96" width="9.9" height="5.1" fill="#CECECE"/>
<rect x="398.74" y="241.96" width="9.9" height="5.1" fill="#CECECE"/>
<rect x="409.5" y="241.96" width="9.9" height="5.1" fill="#CECECE"/>
<rect x="32.9" y="248.03" width="9.9" height="5.1" fill="#CECECE"/>
<rect x="43.66" y="248.03" width="9.9" height="5.1" fill="#CECECE"/>
<rect x="54.42" y="248.03" width="9.9" height="5.1" fill="#CECECE"/>
<rect x="65.18" y="248.03" width="9.9" height="5.1" fill="#CECECE"/>
<rect x="75.94" y="248.03" width="9.9" height="5.1" fill="#CECECE"/>
<rect x="86.7" y="248.03" width="9.9" height="5.1" fill="#CECECE"/>
<rect x="97.46" y="248.03" width="9.9" height="5.1" fill="#CECECE"/>
<rect x="108.22" y="248.03" width="9.9" height="5.1" fill="#CECECE"/>
<rect x="118.98" y="248.03" width="9.9" height="5.1" fill="#CECECE"/>
<rect x="129.74" y="248.03" width="9.9" height="5.1" fill="#CECECE"/>
<rect x="140.5" y="248.03" width="9.9" height="5.1" fill="#CECECE"/>
<rect x="151.26" y="248.03" width="9.9" height="5.1" fill="#CECECE"/>
<rect x="162.02" y="248.03" width="9.9" height="5.1" fill="#CECECE"/>
<rect x="172.78" y="248.03" width="9.9" height="5.1" fill="#CECECE"/>
<rect x="183.54" y="248.03" width="9.9" height="5.1" fill="#CECECE"/>
<rect x="194.3" y="248.03" width="9.9" height="5.1" fill="#CECECE"/>
<rect x="205.06" y="248.03" width="9.9" height="5.1" fill="#CECECE"/>
<rect x="215.82" y="248.03" width="9.9" height="5.1" fill="#CECECE"/>
<rect x="226.58" y="248.03" width="9.9" height="5.1" fill="#CECECE"/>
<rect x="237.34" y="248.03" width="9.9" height="5.1" fill="#CECECE"/>
<rect x="248.1" y="248.03" width="9.9" height="5.1" fill="#CECECE"/>
<rect x="258.86" y="248.03" width="9.9" height="5.1" fill="#CECECE"/>
<rect x="269.62" y="248.03" width="9.9" height="5.1" fill="#CECECE"/>
<rect x="280.38" y="248.03" width="9.9" height="5.1" fill="#CECECE"/>
<rect x="291.14" y="248.03" width="9.9" height="5.1" fill="#CECECE"/>
<rect x="301.9" y="248.03" width="9.9" height="5.1" fill="#CECECE"/>
<rect x="312.66" y="248.03" width="9.9" height="5.1" fill="#CECECE"/>
<rect x="323.42" y="248.03" width="9.9" height="5.1" fill="#CECECE"/>
<rect x="334.18" y="248.03" width="9.9" height="5.1" fill="#CECECE"/>
<rect x="344.94" y="248.03" width="9.9" height="5.1" fill="#CECECE"/>
<rect x="355.7" y="248.03" width="9.9" height="5.1" fill="#CECECE"/>
<rect x="366.46" y="248.03" width="9.9" height="5.1" fill="#CECECE"/>
<rect x="377.22" y="248.03" width="9.9" height="5.1" fill="#CECECE"/>
<rect x="387.98" y="248.03" width="9.9" height="5.1" fill="#CECECE"/>
<rect x="398.74" y="248.03" width="9.9" height="5.1" fill="#CECECE"/>
<rect x="409.5" y="248.03" width="9.9" height="5.1" fill="#CECECE"/>
<rect x="32.9" y="254.1" width="9.9" height="5.1" fill="#CECECE"/>
<rect x="43.66" y="254.1" width="9.9" height="5.1" fill="#CECECE"/>
<rect x="54.42" y="254.1" width="9.9" height="5.1" fill="#CECECE"/>
<rect x="65.18" y="254.1" width="9.9" height="5.1" fill="#CECECE"/>
<rect x="75.94" y="254.1" width="9.9" height="5.1" fill="#CECECE"/>
<rect x="86.7" y="254.1" width="9.9" height="5.1" fill="#CECECE"/>
<rect x="97.46" y="254.1" width="9.9" height="5.1" fill="#CECECE"/>
<rect x="108.22" y="254.1" width="9.9" height="5.1" fill="#CECECE"/>
<rect x="118.98" y="254.1" width="9.9" height="5.1" fill="#CECECE"/>
<rect x="129.74" y="254.1" width="9.9" height="5.1" fill="#CECECE"/>
<rect x="140.5" y="254.1" width="9.9" height="5.1" fill="#CECECE"/>
<rect x="151.26" y="254.1" width="9.9" height="5.1" fill="#CECECE"/>
<rect x="162.02" y="254.1" width="9.9" height="5.1" fill="#CECECE"/>
<rect x="172.78" y="254.1" width="9.9" height="5.1" fill="#CECECE"/>
<rect x="183.54" y="254.1" width="9.9" height="5.1" fill="#CECECE"/>
<rect x="194.3" y="254.1" width="9.9" height="5.1" fill="#CECECE"/>
<rect x="205.06" y="254.1" width="9.9" height="5.1" fill="#CECECE"/>
<rect x="215.82" y="254.1" width="9.9" height="5.1" fill="#CECECE"/>
<rect x="226.58" y="254.1" width="9.9" height="5.1" fill="#CECECE"/>
<rect x="237.34" y="254.1" width="9.9" height="5.1" fill="#CECECE"/>
<rect x="248.1" y="254.1" width="9.9" height="5.1" fill="#CECECE"/>
<rect x="258.86" y="254.1" width="9.9" height="5.1" fill="#CECECE"/>
<rect x="269.62" y="254.1" width="9.9" height="5.1" fill="#CECECE"/>
<rect x="280.38" y="254.1" width="9.9" height="5.1" fill="#CECECE"/>
<rect x="291.14" y="254.1" width="9.9" height="5.1" fill="#CECECE"/>
<rect x="301.9" y="254.1" width="9.9" height="5.1" fill="#CECECE"/>
<rect x="312.66" y="254.1" width="9.9" height="5.1" fill="#CECECE"/>
<rect x="323.42" y="254.1" width="9.9" height="5.1" fill="#CECECE"/>
<rect x="334.18" y="254.1" width="9.9" height="5.1" fill="#CECECE"/>
<rect x="344.94" y="254.1" width="9.9" height="5.1" fill="#CECECE"/>
<rect x="355.7" y="254.1" width="9.9" height="5.1" fill="#CECECE"/>
<rect x="366.46" y="254.1" width="9.9" height="5.1" fill="#CECECE"/>
<rect x="377.22" y="254.1" width="9.9" height="5.1" fill="#CECECE"/>
<rect x="387.98" y="254.1" width="9.9" height="5.1" fill="#CECECE"/>
<rect x="398.74" y="254.1" width="9.9" height="5.1" fill="#CECECE"/>
<rect x="409.5" y="254.1" width="9.9" height="5.1" fill="#CECECE"/>
<rect x="32.9" y="260.17" width="9.9" height="5.1" fill="#CECECE"/>
<rect x="43.66" y="260.17" width="9.9" height="5.1" fill="#CECECE"/>
<rect x="54.42" y="260.17" width="9.9" height="5.1" fill="#CECECE"/>
<rect x="65.18" y="260.17" width="9.9" height="5.1" fill="#CECECE"/>
<rect x="75.94" y="260.17" width="9.9" height="5.1" fill="#CECECE"/>
<rect x="86.7" y="260.17" width="9.9" height="5.1" fill="#CECECE"/>
<rect x="97.46" y="260.17" width="9.9" height="5.1" fill="#CECECE"/>
<rect x="108.22" y="260.17" width="9.9" height="5.1" fill="#CECECE"/>
<rect x="118.98" y="260.17" width="9.9" height="5.1" fill="#CECECE"/>
<rect x="129.74" y="260.17" width="9.9" height="5.1" fill="#CECECE"/>
<rect x="140.5" y="260.17" width="9.9" height="5.1" fill="#CECECE"/>
<rect x="151.26" y="260.17" width="9.9" height="5.1" fill="#CECECE"/>
<rect x="162.02" y="260.17" width="9.9" height="5.1" fill="#CECECE"/>
<rect x="172.78" y="260.17" width="9.9" height="5.1" fill="#CECECE"/>
<rect x="183.54" y="260.17" width="9.9" height="5.1" fill="#CECECE"/>
<rect x="194.3" y="260.17" width="9.9" height="5.1" fill="#CECECE"/>
<rect x="205.06" y="260.17" width="9.9" height="5.1" fill="#CECECE"/>
<rect x="215.82" y="260.17" width="9.9" height="5.1" fill="#CECECE"/>
<rect x="226.58" y="260.17" width="9.9" height="5.1" fill="#CECECE"/>
<rect x="237.34" y="260.17" width="9.9" height="5.1" fill="#CECECE"/>
<rect x="248.1" y="260.17" width="9.9" height="5.1" fill="#CECECE"/>
<rect x="258.86" y="260.17" width="9.9" height="5.1" fill="#CECECE"/>
<rect x="269.62" y="260.17" width="9.9" height="5.1" fill="#CECECE"/>
<rect x="280.38" y="260.17" width="9.9" height="5.1" fill="#CECECE"/>
<rect x="291.14" y="260.17" width="9.9" height="5.1" fill="#CECECE"/>
<rect x="301.9" y="260.17" width="9.9" height="5.1" fill="#CECECE"/>
<rect x="312.66" y="260.17" width="9.9" height="5.1" fill="#CECECE"/>
<rect x="323.42" y="260.17" width="9.9" height="5.1" fill="#CECECE"/>
<rect x="334.18" y="260.17" width="9.9" height="5.1" fill="#CECECE"/>
<rect x="344.94" y="260.17" width="9.9" height="5.1" fill="#CECECE"/>
<rect x="355.7" y="260.17" width="9.9" height="5.1" fill="#CECECE"/>
<rect x="366.46" y="260.17" width="9.9" height="5.1" fill="#CECECE"/>
<rect x="377.22" y="260.17" width="9.9" height="5.1" fill="#CECECE"/>
<rect x="387.98" y="260.17" width="9.9" height="5.1" fill="#CECECE"/>
<rect x="398.74" y="260.17" width="9.9" height="5.1" fill="#CECECE"/>
<rect x="409.5" y="260.17" width="9.9" height="5.1" fill="#CECECE"/>
<rect x="32.9" y="266.24" width="9.9" height="5.1" fill="#CECECE"/>
<rect x="43.66" y="266.24" width="9.9" height="5.1" fill="#CECECE"/>
<rect x="54.42" y="266.24" width="9.9" height="5.1" fill="#CECECE"/>
<rect x="65.18" y="266.24" width="9.9" height="5.1" fill="#CECECE"/>
<rect x="75.94" y="266.24" width="9.9" height="5.1" fill="#CECECE"/>
<rect x="86.7" y="266.24" width="9.9" height="5.1" fill="#CECECE"/>
<rect x="97.46" y="266.24" width="9.9" height="5.1" fill="#CECECE"/>
<rect x="108.22" y="266.24" width="9.9" height="5.1" fill="#CECECE"/>
<rect x="118.98" y="266.24" width="9.9" height="5.1" fill="#CECECE"/>
<rect x="129.74" y="266.24" width="9.9" height="5.1" fill="#CECECE"/>
<rect x="140.5" y="266.24" width="9.9" height="5.1" fill="#CECECE"/>
<rect x="151.26" y="266.24" width="9.9" height="5.1" fill="#CECECE"/>
<rect x="162.02" y="266.24" width="9.9" height="5.1" fill="#CECECE"/>
<rect x="172.78" y="266.24" width="9.9" height="5.1" fill="#CECECE"/>
<rect x="183.54" y="266.24" width="9.9" height="5.1" fill="#CECECE"/>
<rect x="194.3" y="266.24" width="9.9" height="5.1" fill="#CECECE"/>
<rect x="205.06" y="266.24" width="9.9" height="5.1" fill="#CECECE"/>
<rect x="215.82" y="266.24" width="9.9" height="5.1" fill="#CECECE"/>
<rect x="226.58" y="266.24" width="9.9" height="5.1" fill="#CECECE"/>
<rect x="237.34" y="266.24" width="9.9" height="5.1" fill="#CECECE"/>
<rect x="248.1" y="266.24" width="9.9" height="5.1" fill="#CECECE"/>
<rect x="258.86" y="266.24" width="9.9" height="5.1" fill="#CECECE"/>
<rect x="269.62" y="266.24" width="9.9" height="5.1" fill="#CECECE"/>
<rect x="280.38" y="266.24" width="9.9" height="5.1" fill="#CECECE"/>
<rect x="291.14" y="266.24" width="9.9" height="5.1" fill="#CECECE"/>
<rect x="301.9" y="266.24" width="9.9" height="5.1" fill="#CECECE"/>
<rect x="312.66" y="266.24" width="9.9" height="5.1" fill="#CECECE"/>
<rect x="323.42" y="266.24" width="9.9" height="5.1" fill="#CECECE"/>
<rect x="334.18" y="266.24" width="9.9" height="5.1" fill="#CECECE"/>
<rect x="344.94" y="266.24" width="9.9" height="5.1" fill="#CECECE"/>
<rect x="355.7" y="266.24" width="9.9" height="5.1" fill="#CECECE"/>
<rect x="366.46" y="266.24" width="9.9" height="5.1" fill="#CECECE"/>
<rect x="377.22" y="266.24" width="9.9" height="5.1" fill="#CECECE"/>
<rect x="387.98" y="266.24" width="9.9" height="5.1" fill="#CECECE"/>
<rect x="398.74" y="266.24" width="9.9" height="5.1" fill="#CECECE"/>
<rect x="409.5" y="266.24" width="9.9" height="5.1" fill="#CECECE"/>
<rect x="32.9" y="272.31" width="9.9" height="5.1" fill="#CECECE"/>
<rect x="43.66" y="272.31" width="9.9" height="5.1" fill="#CECECE"/>
<rect x="54.42" y="272.31" width="9.9" height="5.1" fill="#CECECE"/>
<rect x="65.18" y="272.31" width="9.9" height="5.1" fill="#CECECE"/>
<rect x="75.94" y="272.31" width="9.9" height="5.1" fill="#CECECE"/>
<rect x="86.7" y="272.31" width="9.9" height="5.1" fill="#CECECE"/>
<rect x="97.46" y="272.31" width="9.9" height="5.1" fill="#CECECE"/>
<rect x="108.22" y="272.31" width="9.9" height="5.1" fill="#CECECE"/>
<rect x="118.98" y="272.31" width="9.9" height="5.1" fill="#CECECE"/>
<rect x="129.74" y="272.31" width="9.9" height="5.1" fill="#CECECE"/>
<rect x="140.5" y="272.31" width="9.9" height="5.1" fill="#CECECE"/>
<rect x="151.26" y="272.31" width="9.9" height="5.1" fill="#CECECE"/>
<rect x="162.02" y="272.31" width="9.9" height="5.1" fill="#CECECE"/>
<rect x="172.78" y="272.31" width="9.9" height="5.1" fill="#CECECE"/>
<rect x="183.54" y="272.31" width="9.9" height="5.1" fill="#CECECE"/>
<rect x="194.3" y="272.31" width="9.9" height="5.1" fill="#CECECE"/>
<rect x="205.06" y="272.31" width="9.9" height="5.1" fill="#CECECE"/>
<rect x="215.82" y="272.31" width="9.9" height="5.1" fill="#CECECE"/>
<rect x="226.58" y="272.31" width="9.9" height="5.1" fill="#CECECE"/>
<rect x="237.34" y="272.31" width="9.9" height="5.1" fill="#CECECE"/>
<rect x="248.1" y="272.31" width="9.9" height="5.1" fill="#CECECE"/>
<rect x="258.86" y="272.31" width="9.9" height="5.1" fill="#CECECE"/>
<rect x="269.62" y="272.31" width="9.9" height="5.1" fill="#CECECE"/>
<rect x="280.38" y="272.31" width="9.9" height="5.1" fill="#CECECE"/>
<rect x="291.14" y="272.31" width="9.9" height="5.1" fill="#CECECE"/>
<rect x="301.9" y="272.31" width="9.9" height="5.1" fill="#CECECE"/>
<rect x="312.66" y="272.31" width="9.9" height="5.1" fill="#CECECE"/>
<rect x="323.42" y="272.31" width="9.9" height="5.1" fill="#CECECE"/>
<rect x="334.18" y="272.31" width="9.9" height="5.1" fill="#CECECE"/>
<rect x="344.94" y="272.31" width="9.9" height="5.1" fill="#CECECE"/>
<rect x="355.7" y="272.31" width="9.9" height="5.1" fill="#CECECE"/>
<rect x="366.46" y="272.31" width="9.9" height="5.1" fill="#CECECE"/>
<rect x="377.22" y="272.31" width="9.9" height="5.1" fill="#CECECE"/>
<rect x="387.98" y="272.31" width="9.9" height="5.1" fill="#CECECE"/>
<rect x="398.74" y="272.31" width="9.9" height="5.1" fill="#CECECE"/>
<rect x="409.5" y="272.31" width="9.9" height="5.1" fill="#CECECE"/>
<rect x="32.9" y="278.38" width="9.9" height="5.1" fill="#CECECE"/>
<rect x="43.66" y="278.38" width="9.9" height="5.1" fill="#CECECE"/>
<rect x="54.42" y="278.38" width="9.9" height="5.1" fill="#CECECE"/>
<rect x="65.18" y="278.38" width="9.9" height="5.1" fill="#CECECE"/>
<rect x="75.94" y="278.38" width="9.9" height="5.1" fill="#CECECE"/>
<rect x="86.7" y="278.38" width="9.9" height="5.1" fill="#CECECE"/>
<rect x="97.46" y="278.38" width="9.9" height="5.1" fill="#CECECE"/>
<rect x="108.22" y="278.38" width="9.9" height="5.1" fill="#CECECE"/>
<rect x="118.98" y="278.38" width="9.9" height="5.1" fill="#CECECE"/>
<rect x="129.74" y="278.38" width="9.9" height="5.1" fill="#CECECE"/>
<rect x="140.5" y="278.38" width="9.9" height="5.1" fill="#CECECE"/>
<rect x="151.26" y="278.38" width="9.9" height="5.1" fill="#CECECE"/>
<rect x="162.02" y="278.38" width="9.9" height="5.1" fill="#CECECE"/>
<rect x="172.78" y="278.38" width="9.9" height="5.1" fill="#CECECE"/>
<rect x="183.54" y="278.38" width="9.9" height="5.1" fill="#CECECE"/>
<rect x="194.3" y="278.38" width="9.9" height="5.1" fill="#CECECE"/>
<rect x="205.06" y="278.38" width="9.9" height="5.1" fill="#CECECE"/>
<rect x="215.82" y="278.38" width="9.9" height="5.1" fill="#CECECE"/>
<rect x="226.58" y="278.38" width="9.9" height="5.1" fill="#CECECE"/>
<rect x="237.34" y="278.38" width="9.9" height="5.1" fill="#CECECE"/>
<rect x="248.1" y="278.38" width="9.9" height="5.1" fill="#CECECE"/>
<rect x="258.86" y="278.38" width="9.9" height="5.1" fill="#CECECE"/>
<rect x="269.62" y="278.38" width="9.9" height="5.1" fill="#CECECE"/>
<rect x="280.38" y="278.38" width="9.9" height="5.1" fill="#CECECE"/>
<rect x="291.14" y="278.38" width="9.9" height="5.1" fill="#CECECE"/>
<rect x="301.9" y="278.38" width="9.9" height="5.1" fill="#CECECE"/>
<rect x="312.66" y="278.38" width="9.9" height="5.1" fill="#CECECE"/>
<rect x="323.42" y="278.38" width="9.9" height="5.1" fill="#CECECE"/>
<rect x="334.18" y="278.38" width="9.9" height="5.1" fill="#CECECE"/>
<rect x="344.94" y="278.38" width="9.9" height="5.1" fill="#CECECE"/>
<rect x="355.7" y="278.38" width="9.9" height="5.1" fill="#CECECE"/>
<rect x="366.46" y="278.38" width="9.9" height="5.1" fill="#CECECE"/>
<rect x="377.22" y="278.38" width="9.9" height="5.1" fill="#CECECE"/>
<rect x="387.98" y="278.38" width="9.9" height="5.1" fill="#CECECE"/>
<rect x="398.74" y="278.38" width="9.9" height="5.1" fill="#CECECE"/>
<rect x="409.5" y="278.38" width="9.9" height="5.1" fill="#CECECE"/>
<rect x="32.9" y="72.95" width="9.9" height="3.2" fill="#CC5A1E"/>
<rect x="54.42" y="72.95" width="9.9" height="3.2" fill="#CC5A1E"/>
<rect x="65.18" y="72.95" width="9.9" height="3.2" fill="#CC5A1E"/>
<rect x="75.94" y="72.95" width="9.9" height="3.2" fill="#CC5A1E"/>
<rect x="151.26" y="72.95" width="9.9" height="3.2" fill="#CC5A1E"/>
<rect x="172.78" y="72.95" width="9.9" height="3.2" fill="#CC5A1E"/>
<rect x="248.1" y="72.95" width="9.9" height="3.2" fill="#CC5A1E"/>
<rect x="269.62" y="72.95" width="9.9" height="3.2" fill="#CC5A1E"/>
<rect x="301.9" y="72.95" width="9.9" height="3.2" fill="#CC5A1E"/>
<rect x="366.46" y="72" width="9.9" height="5.1" fill="#FB9A99"/>
<rect x="32.9" y="79.02" width="9.9" height="3.2" fill="#CC5A1E"/>
<rect x="54.42" y="79.02" width="9.9" height="3.2" fill="#CC5A1E"/>
<rect x="65.18" y="79.02" width="9.9" height="3.2" fill="#CC5A1E"/>
<rect x="75.94" y="79.02" width="9.9" height="3.2" fill="#CC5A1E"/>
<rect x="151.26" y="79.02" width="9.9" height="3.2" fill="#CC5A1E"/>
<rect x="172.78" y="79.02" width="9.9" height="3.2" fill="#CC5A1E"/>
<rect x="248.1" y="79.02" width="9.9" height="3.2" fill="#CC5A1E"/>
<rect x="269.62" y="79.02" width="9.9" height="3.2" fill="#CC5A1E"/>
<rect x="65.18" y="85.09" width="9.9" height="3.2" fill="#CC5A1E"/>
<rect x="75.94" y="85.09" width="9.9" height="3.2" fill="#CC5A1E"/>
<rect x="172.78" y="85.09" width="9.9" height="3.2" fill="#CC5A1E"/>
<rect x="205.06" y="85.09" width="9.9" height="3.2" fill="#CC5A1E"/>
<rect x="344.94" y="85.09" width="9.9" height="3.2" fill="#CC5A1E"/>
<rect x="54.42" y="91.16" width="9.9" height="3.2" fill="#CC5A1E"/>
<rect x="172.78" y="91.16" width="9.9" height="3.2" fill="#CC5A1E"/>
<rect x="269.62" y="91.16" width="9.9" height="3.2" fill="#CC5A1E"/>
<rect x="280.38" y="91.16" width="9.9" height="3.2" fill="#CC5A1E"/>
<rect x="301.9" y="91.16" width="9.9" height="3.2" fill="#7030A0"/>
<rect x="54.42" y="96.28" width="9.9" height="5.1" fill="#8ECDE5"/>
<rect x="162.02" y="96.28" width="9.9" height="5.1" fill="#8ECDE5"/>
<rect x="172.78" y="96.28" width="9.9" height="5.1" fill="#8ECDE5"/>
<rect x="355.7" y="96.28" width="9.9" height="5.1" fill="#8ECDE5"/>
<rect x="366.46" y="96.28" width="9.9" height="5.1" fill="#8ECDE5"/>
<rect x="32.9" y="102.35" width="9.9" height="5.1" fill="#00A000"/>
<rect x="108.22" y="102.35" width="9.9" height="5.1" fill="#FF7F00"/>
<rect x="118.98" y="102.35" width="9.9" height="5.1" fill="#FF7F00"/>
<rect x="183.54" y="102.35" width="9.9" height="5.1" fill="#FB9A99"/>
<rect x="140.5" y="108.42" width="9.9" height="5.1" fill="#00A000"/>
<rect x="398.74" y="108.42" width="9.9" height="5.1" fill="#00A000"/>
<rect x="151.26" y="108.42" width="9.9" height="5.1" fill="#8ECDE5"/>
<rect x="151.26" y="109.37" width="9.9" height="3.2" fill="#CC5A1E"/>
<rect x="409.5" y="108.42" width="9.9" height="5.1" fill="#FB9A99"/>
<rect x="108.22" y="114.49" width="9.9" height="5.1" fill="#97D980"/>
<rect x="118.98" y="114.49" width="9.9" height="5.1" fill="#97D980"/>
<rect x="183.54" y="114.49" width="9.9" height="5.1" fill="#FB9A99"/>
<rect x="248.1" y="114.49" width="9.9" height="5.1" fill="#FB9A99"/>
<rect x="43.66" y="120.56" width="9.9" height="5.1" fill="#8ECDE5"/>
<rect x="194.3" y="120.56" width="9.9" height="5.1" fill="#8ECDE5"/>
<rect x="301.9" y="120.56" width="9.9" height="5.1" fill="#FF0000"/>
<rect x="258.86" y="126.63" width="9.9" height="5.1" fill="#00A000"/>
<rect x="269.62" y="126.63" width="9.9" height="5.1" fill="#8ECDE5"/>
<rect x="312.66" y="126.63" width="9.9" height="5.1" fill="#8ECDE5"/>
<rect x="43.66" y="132.7" width="9.9" height="5.1" fill="#8ECDE5"/>
<rect x="355.7" y="132.7" width="9.9" height="5.1" fill="#8ECDE5"/>
<rect x="366.46" y="132.7" width="9.9" height="5.1" fill="#8ECDE5"/>
<rect x="248.1" y="138.77" width="9.9" height="5.1" fill="#97D980"/>
<rect x="398.74" y="138.77" width="9.9" height="5.1" fill="#FB9A99"/>
<rect x="409.5" y="138.77" width="9.9" height="5.1" fill="#FB9A99"/>
<rect x="355.7" y="144.84" width="9.9" height="5.1" fill="#8ECDE5"/>
<rect x="366.46" y="144.84" width="9.9" height="5.1" fill="#8ECDE5"/>
<rect x="280.38" y="151.86" width="9.9" height="3.2" fill="#7030A0"/>
<rect x="291.14" y="151.86" width="9.9" height="3.2" fill="#7030A0"/>
<rect x="237.34" y="157.93" width="9.9" height="3.2" fill="#CC5A1E"/>
<rect x="291.14" y="157.93" width="9.9" height="3.2" fill="#CC5A1E"/>
<rect x="172.78" y="163.05" width="9.9" height="5.1" fill="#97D980"/>
<rect x="183.54" y="163.05" width="9.9" height="5.1" fill="#FB9A99"/>
<rect x="54.42" y="170.07" width="9.9" height="3.2" fill="#CC5A1E"/>
<rect x="151.26" y="170.07" width="9.9" height="3.2" fill="#CC5A1E"/>
<rect x="54.42" y="176.14" width="9.9" height="3.2" fill="#CC5A1E"/>
<rect x="151.26" y="176.14" width="9.9" height="3.2" fill="#CC5A1E"/>
<rect x="280.38" y="182.21" width="9.9" height="3.2" fill="#7030A0"/>
<rect x="291.14" y="182.21" width="9.9" height="3.2" fill="#7030A0"/>
<rect x="54.42" y="188.28" width="9.9" height="3.2" fill="#7030A0"/>
<rect x="248.1" y="194.35" width="9.9" height="3.2" fill="#7030A0"/>
<rect x="86.7" y="199.47" width="9.9" height="5.1" fill="#8ECDE5"/>
<rect x="366.46" y="206.49" width="9.9" height="3.2" fill="#7030A0"/>
<rect x="194.3" y="211.61" width="9.9" height="5.1" fill="#97D980"/>
<rect x="205.06" y="218.63" width="9.9" height="3.2" fill="#CC5A1E"/>
<rect x="280.38" y="224.7" width="9.9" height="3.2" fill="#7030A0"/>
<rect x="32.9" y="230.77" width="9.9" height="3.2" fill="#7030A0"/>
<rect x="86.7" y="235.89" width="9.9" height="5.1" fill="#8ECDE5"/>
<rect x="32.9" y="242.91" width="9.9" height="3.2" fill="#CC5A1E"/>
<rect x="280.38" y="248.98" width="9.9" height="3.2" fill="#CC5A1E"/>
<rect x="226.58" y="254.1" width="9.9" height="5.1" fill="#1F78B4"/>
<rect x="355.7" y="260.17" width="9.9" height="5.1" fill="#FB9A99"/>
<rect x="86.7" y="266.24" width="9.9" height="5.1" fill="#8ECDE5"/>
<rect x="54.42" y="273.26" width="9.9" height="3.2" fill="#7030A0"/>
<rect x="258.86" y="278.38" width="9.9" height="5.1" fill="#FDBF6F"/>
</g>
<g id="topbar">
<rect x="32.9" y="52.1" width="9.6" height="15.5" fill="#8ECDE5"/>
<rect x="32.9" y="44.35" width="9.6" height="8.05" fill="#7030A0"/>
<rect x="32.9" y="21.1" width="9.6" height="23.55" fill="#CC5A1E"/>
<rect x="43.66" y="52.1" width="9.6" height="15.5" fill="#8ECDE5"/>
<rect x="54.42" y="59.85" width="9.6" height="7.75" fill="#8ECDE5"/>
<rect x="54.42" y="44.35" width="9.6" height="15.8" fill="#7030A0"/>
<rect x="54.42" y="5.6" width="9.6" height="39.05" fill="#CC5A1E"/>
<rect x="65.18" y="44.35" width="9.6" height="23.25" fill="#CC5A1E"/>
<rect x="75.94" y="44.35" width="9.6" height="23.25" fill="#CC5A1E"/>
<rect x="86.7" y="44.35" width="9.6" height="23.25" fill="#8ECDE5"/>
<rect x="108.22" y="59.85" width="9.6" height="7.75" fill="#FF7F00"/>
<rect x="108.22" y="52.1" width="9.6" height="8.05" fill="#97D980"/>
<rect x="118.98" y="59.85" width="9.6" height="7.75" fill="#FF7F00"/>
<rect x="118.98" y="52.1" width="9.6" height="8.05" fill="#97D980"/>
<rect x="140.5" y="59.85" width="9.6" height="7.75" fill="#FB9A99"/>
<rect x="140.5" y="52.1" width="9.6" height="8.05" fill="#8ECDE5"/>
<rect x="151.26" y="59.85" width="9.6" height="7.75" fill="#8ECDE5"/>
<rect x="151.26" y="21.1" width="9.6" height="39.05" fill="#CC5A1E"/>
<rect x="162.02" y="59.85" width="9.6" height="7.75" fill="#8ECDE5"/>
<rect x="172.78" y="59.85" width="9.6" height="7.75" fill="#8ECDE5"/>
<rect x="172.78" y="52.1" width="9.6" height="8.05" fill="#97D980"/>
<rect x="172.78" y="21.1" width="9.6" height="31.3" fill="#CC5A1E"/>
<rect x="183.54" y="44.35" width="9.6" height="23.25" fill="#FB9A99"/>
<rect x="194.3" y="59.85" width="9.6" height="7.75" fill="#8ECDE5"/>
<rect x="194.3" y="52.1" width="9.6" height="8.05" fill="#97D980"/>
<rect x="205.06" y="52.1" width="9.6" height="15.5" fill="#CC5A1E"/>
<rect x="226.58" y="59.85" width="9.6" height="7.75" fill="#1F78B4"/>
<rect x="237.34" y="59.85" width="9.6" height="7.75" fill="#CC5A1E"/>
<rect x="248.1" y="59.85" width="9.6" height="7.75" fill="#FB9A99"/>
<rect x="248.1" y="52.1" width="9.6" height="8.05" fill="#97D980"/>
<rect x="248.1" y="44.35" width="9.6" height="8.05" fill="#7030A0"/>
<rect x="248.1" y="28.85" width="9.6" height="15.8" fill="#CC5A1E"/>
<rect x="258.86" y="52.1" width="9.6" height="15.5" fill="#8ECDE5"/>
<rect x="258.86" y="44.35" width="9.6" height="8.05" fill="#FDBF6F"/>
<rect x="269.62" y="59.85" width="9.6" height="7.75" fill="#8ECDE5"/>
<rect x="269.62" y="36.6" width="9.6" height="23.55" fill="#CC5A1E"/>
<rect x="280.38" y="44.35" width="9.6" height="23.25" fill="#7030A0"/>
<rect x="280.38" y="28.85" width="9.6" height="15.8" fill="#CC5A1E"/>
<rect x="291.14" y="52.1" width="9.6" height="15.5" fill="#7030A0"/>
<rect x="291.14" y="44.35" width="9.6" height="8.05" fill="#CC5A1E"/>
<rect x="301.9" y="59.85" width="9.6" height="7.75" fill="#FF0000"/>
<rect x="301.9" y="52.1" width="9.6" height="8.05" fill="#7030A0"/>
<rect x="301.9" y="44.35" width="9.6" height="8.05" fill="#CC5A1E"/>
<rect x="312.66" y="59.85" width="9.6" height="7.75" fill="#8ECDE5"/>
<rect x="344.94" y="59.85" width="9.6" height="7.75" fill="#CC5A1E"/>
<rect x="355.7" y="59.85" width="9.6" height="7.75" fill="#FB9A99"/>
<rect x="355.7" y="36.6" width="9.6" height="23.55" fill="#8ECDE5"/>
<rect x="366.46" y="59.85" width="9.6" height="7.75" fill="#FB9A99"/>
<rect x="366.46" y="36.6" width="9.6" height="23.55" fill="#8ECDE5"/>
<rect x="366.46" y="28.85" width="9.6" height="8.05" fill="#7030A0"/>
<rect x="398.74" y="52.1" width="9.6" height="15.5" fill="#FB9A99"/>
<rect x="398.74" y="44.35" width="9.6" height="8.05" fill="#8ECDE5"/>
<rect x="409.5" y="52.1" width="9.6" height="15.5" fill="#FB9A99"/>
<path d="M26.1 5.6H29.3V67.6H26.1" fill="none" stroke="#555" stroke-width="1.1"/>
<text x="23.1" y="8.1" text-anchor="end" font-size="6">8</text>
<text x="23.1" y="70.8" text-anchor="end" font-size="6">0</text>
<text transform="translate(23.9 36.4) rotate(-90)" text-anchor="middle" font-size="5.3">No. of mutations</text>
</g>
<g id="rightbar">
<rect x="438.6" y="72" width="10.76" height="5.1" fill="#FB9A99"/>
<rect x="449.06" y="72" width="94.14" height="5.1" fill="#CC5A1E"/>
<rect x="438.6" y="78.07" width="83.68" height="5.1" fill="#CC5A1E"/>
<rect x="438.6" y="84.14" width="52.3" height="5.1" fill="#CC5A1E"/>
<rect x="438.6" y="90.21" width="42.14" height="5.1" fill="#CC5A1E"/>
<rect x="480.44" y="90.21" width="10.46" height="5.1" fill="#7030A0"/>
<rect x="438.6" y="96.28" width="52.3" height="5.1" fill="#8ECDE5"/>
<rect x="438.6" y="102.35" width="21.22" height="5.1" fill="#FF7F00"/>
<rect x="459.52" y="102.35" width="10.76" height="5.1" fill="#FB9A99"/>
<rect x="469.98" y="102.35" width="10.46" height="5.1" fill="#00A000"/>
<rect x="438.6" y="108.42" width="10.76" height="5.1" fill="#FB9A99"/>
<rect x="449.06" y="108.42" width="21.22" height="5.1" fill="#00A000"/>
<rect x="469.98" y="108.42" width="10.46" height="5.1" fill="#4A5470"/>
<rect x="438.6" y="114.49" width="21.22" height="5.1" fill="#97D980"/>
<rect x="459.52" y="114.49" width="20.92" height="5.1" fill="#FB9A99"/>
<rect x="438.6" y="120.56" width="21.22" height="5.1" fill="#8ECDE5"/>
<rect x="459.52" y="120.56" width="10.46" height="5.1" fill="#FF0000"/>
<rect x="438.6" y="126.63" width="21.22" height="5.1" fill="#8ECDE5"/>
<rect x="459.52" y="126.63" width="10.46" height="5.1" fill="#00A000"/>
<rect x="438.6" y="132.7" width="31.38" height="5.1" fill="#8ECDE5"/>
<rect x="438.6" y="138.77" width="10.76" height="5.1" fill="#97D980"/>
<rect x="449.06" y="138.77" width="20.92" height="5.1" fill="#FB9A99"/>
<rect x="438.6" y="144.84" width="20.92" height="5.1" fill="#8ECDE5"/>
<rect x="438.6" y="150.91" width="20.92" height="5.1" fill="#7030A0"/>
<rect x="438.6" y="156.98" width="20.92" height="5.1" fill="#CC5A1E"/>
<rect x="438.6" y="163.05" width="10.76" height="5.1" fill="#97D980"/>
<rect x="449.06" y="163.05" width="10.46" height="5.1" fill="#FB9A99"/>
<rect x="438.6" y="169.12" width="20.92" height="5.1" fill="#CC5A1E"/>
<rect x="438.6" y="175.19" width="20.92" height="5.1" fill="#CC5A1E"/>
<rect x="438.6" y="181.26" width="20.92" height="5.1" fill="#7030A0"/>
<rect x="438.6" y="187.33" width="10.46" height="5.1" fill="#7030A0"/>
<rect x="438.6" y="193.4" width="10.46" height="5.1" fill="#7030A0"/>
<rect x="438.6" y="199.47" width="10.46" height="5.1" fill="#8ECDE5"/>
<rect x="438.6" y="205.54" width="10.46" height="5.1" fill="#7030A0"/>
<rect x="438.6" y="211.61" width="10.46" height="5.1" fill="#97D980"/>
<rect x="438.6" y="217.68" width="10.46" height="5.1" fill="#CC5A1E"/>
<rect x="438.6" y="223.75" width="10.46" height="5.1" fill="#7030A0"/>
<rect x="438.6" y="229.82" width="10.46" height="5.1" fill="#7030A0"/>
<rect x="438.6" y="235.89" width="10.46" height="5.1" fill="#8ECDE5"/>
<rect x="438.6" y="241.96" width="10.46" height="5.1" fill="#CC5A1E"/>
<rect x="438.6" y="248.03" width="10.46" height="5.1" fill="#CC5A1E"/>
<rect x="438.6" y="254.1" width="10.46" height="5.1" fill="#1F78B4"/>
<rect x="438.6" y="260.17" width="10.46" height="5.1" fill="#FB9A99"/>
<rect x="438.6" y="266.24" width="10.46" height="5.1" fill="#8ECDE5"/>
<rect x="438.6" y="272.31" width="10.46" height="5.1" fill="#7030A0"/>
<rect x="438.6" y="278.38" width="10.46" height="5.1" fill="#FDBF6F"/>
<path d="M438.6 67V69.7H543.2V67" fill="none" stroke="#555" stroke-width="1.1"/>
<text x="438.6" y="62.8" text-anchor="middle" font-size="5">0</text>
<text x="542.3" y="62.8" text-anchor="middle" font-size="5.3">10</text>
<text x="491" y="63.6" text-anchor="middle" font-size="8.3">No. of samples</text>
</g>
<g id="genes" font-style="italic" text-anchor="end">
<text x="29.9" y="77.15" font-size="7" textLength="25.56" lengthAdjust="spacingAndGlyphs">CDKN2A</text>
<text x="29.9" y="83.22" font-size="7" textLength="25.56" lengthAdjust="spacingAndGlyphs">CDKN2B</text>
<text x="29.9" y="89.29" font-size="7" textLength="17.15" lengthAdjust="spacingAndGlyphs">IKZF1</text>
<text x="29.9" y="95.36" font-size="7" textLength="15.64" lengthAdjust="spacingAndGlyphs">PAX5</text>
<text x="29.9" y="101.43" font-size="7" textLength="23.34" lengthAdjust="spacingAndGlyphs">PTPN11</text>
<text x="29.9" y="107.5" font-size="7" textLength="14.24" lengthAdjust="spacingAndGlyphs">FLT3</text>
<text x="29.9" y="113.57" font-size="7" textLength="16.8" lengthAdjust="spacingAndGlyphs">PTEN</text>
<text x="29.9" y="119.64" font-size="7" textLength="13.3" lengthAdjust="spacingAndGlyphs">WT1</text>
<text x="29.9" y="125.71" font-size="7" textLength="17.16" lengthAdjust="spacingAndGlyphs">KRAS</text>
<text x="29.9" y="131.78" font-size="7" textLength="17.5" lengthAdjust="spacingAndGlyphs">NRAS</text>
<text x="29.9" y="137.85" font-size="7" textLength="19.96" lengthAdjust="spacingAndGlyphs">NT5C2</text>
<text x="29.9" y="143.92" font-size="7" textLength="16.1" lengthAdjust="spacingAndGlyphs">PHF6</text>
<text x="29.9" y="149.99" font-size="7" textLength="25.91" lengthAdjust="spacingAndGlyphs">CREBBP</text>
<text x="29.9" y="156.06" font-size="7" textLength="19.96" lengthAdjust="spacingAndGlyphs">CRLF2</text>
<text x="29.9" y="162.13" font-size="7" textLength="15.76" lengthAdjust="spacingAndGlyphs">ETV6</text>
<text x="29.9" y="168.2" font-size="7" textLength="21.35" lengthAdjust="spacingAndGlyphs">KMT2D</text>
<text x="29.9" y="174.27" font-size="7" textLength="19.14" lengthAdjust="spacingAndGlyphs">MLLT3</text>
<text x="29.9" y="180.34" font-size="7" textLength="17.03" lengthAdjust="spacingAndGlyphs">MTAP</text>
<text x="29.9" y="186.41" font-size="7" textLength="17.85" lengthAdjust="spacingAndGlyphs">SHOX</text>
<text x="29.9" y="192.48" font-size="7" textLength="15.41" lengthAdjust="spacingAndGlyphs">ABL1</text>
<text x="29.9" y="198.55" font-size="7" textLength="14.01" lengthAdjust="spacingAndGlyphs">AHI1</text>
<text x="29.9" y="204.62" font-size="7" textLength="15.76" lengthAdjust="spacingAndGlyphs">AKT1</text>
<text x="29.9" y="210.69" font-size="7" textLength="16.46" lengthAdjust="spacingAndGlyphs">AML1</text>
<text x="29.9" y="216.76" font-size="7" textLength="16.33" lengthAdjust="spacingAndGlyphs">ATRX</text>
<text x="29.9" y="222.83" font-size="7" textLength="16.45" lengthAdjust="spacingAndGlyphs">BTG1</text>
<text x="29.9" y="228.9" font-size="7" textLength="24.86" lengthAdjust="spacingAndGlyphs">CSF2RA</text>
<text x="29.9" y="234.97" font-size="7" textLength="15.76" lengthAdjust="spacingAndGlyphs">EBF1</text>
<text x="29.9" y="241.04" font-size="7" textLength="21.7" lengthAdjust="spacingAndGlyphs">FBXW7</text>
<text x="29.9" y="247.11" font-size="7" textLength="16.81" lengthAdjust="spacingAndGlyphs">GBE1</text>
<text x="29.9" y="253.18" font-size="7" textLength="15.06" lengthAdjust="spacingAndGlyphs">JAK2</text>
<text x="29.9" y="259.25" font-size="7" textLength="12.95" lengthAdjust="spacingAndGlyphs">MPL</text>
<text x="29.9" y="265.32" font-size="7" textLength="17.5" lengthAdjust="spacingAndGlyphs">MSH6</text>
<text x="29.9" y="271.39" font-size="7" textLength="25.9" lengthAdjust="spacingAndGlyphs">NOTCH1</text>
<text x="29.9" y="277.46" font-size="7" textLength="23.81" lengthAdjust="spacingAndGlyphs">NUP214</text>
<text x="29.9" y="283.53" font-size="7" textLength="19.61" lengthAdjust="spacingAndGlyphs">SUZ12</text>
</g>
<g id="pcts">
<text x="420.5" y="77.15" font-size="6.9" textLength="12.81" lengthAdjust="spacingAndGlyphs">28%</text>
<text x="420.5" y="83.22" font-size="6.9" textLength="12.81" lengthAdjust="spacingAndGlyphs">22%</text>
<text x="420.5" y="89.29" font-size="6.9" textLength="12.81" lengthAdjust="spacingAndGlyphs">14%</text>
<text x="420.5" y="95.36" font-size="6.9" textLength="12.81" lengthAdjust="spacingAndGlyphs">14%</text>
<text x="420.5" y="101.43" font-size="6.9" textLength="12.81" lengthAdjust="spacingAndGlyphs">14%</text>
<text x="420.5" y="107.5" font-size="6.9" textLength="12.33" lengthAdjust="spacingAndGlyphs">11%</text>
<text x="420.5" y="113.57" font-size="6.9" textLength="12.33" lengthAdjust="spacingAndGlyphs">11%</text>
<text x="420.5" y="119.64" font-size="6.9" textLength="12.33" lengthAdjust="spacingAndGlyphs">11%</text>
<text x="420.5" y="125.71" font-size="6.9" textLength="9.25" lengthAdjust="spacingAndGlyphs">8%</text>
<text x="420.5" y="131.78" font-size="6.9" textLength="9.25" lengthAdjust="spacingAndGlyphs">8%</text>
<text x="420.5" y="137.85" font-size="6.9" textLength="9.25" lengthAdjust="spacingAndGlyphs">8%</text>
<text x="420.5" y="143.92" font-size="6.9" textLength="9.25" lengthAdjust="spacingAndGlyphs">8%</text>
<text x="420.5" y="149.99" font-size="6.9" textLength="9.25" lengthAdjust="spacingAndGlyphs">6%</text>
<text x="420.5" y="156.06" font-size="6.9" textLength="9.25" lengthAdjust="spacingAndGlyphs">6%</text>
<text x="420.5" y="162.13" font-size="6.9" textLength="9.25" lengthAdjust="spacingAndGlyphs">6%</text>
<text x="420.5" y="168.2" font-size="6.9" textLength="9.25" lengthAdjust="spacingAndGlyphs">6%</text>
<text x="420.5" y="174.27" font-size="6.9" textLength="9.25" lengthAdjust="spacingAndGlyphs">6%</text>
<text x="420.5" y="180.34" font-size="6.9" textLength="9.25" lengthAdjust="spacingAndGlyphs">6%</text>
<text x="420.5" y="186.41" font-size="6.9" textLength="9.25" lengthAdjust="spacingAndGlyphs">6%</text>
<text x="420.5" y="192.48" font-size="6.9" textLength="9.25" lengthAdjust="spacingAndGlyphs">3%</text>
<text x="420.5" y="198.55" font-size="6.9" textLength="9.25" lengthAdjust="spacingAndGlyphs">3%</text>
<text x="420.5" y="204.62" font-size="6.9" textLength="9.25" lengthAdjust="spacingAndGlyphs">3%</text>
<text x="420.5" y="210.69" font-size="6.9" textLength="9.25" lengthAdjust="spacingAndGlyphs">3%</text>
<text x="420.5" y="216.76" font-size="6.9" textLength="9.25" lengthAdjust="spacingAndGlyphs">3%</text>
<text x="420.5" y="222.83" font-size="6.9" textLength="9.25" lengthAdjust="spacingAndGlyphs">3%</text>
<text x="420.5" y="228.9" font-size="6.9" textLength="9.25" lengthAdjust="spacingAndGlyphs">3%</text>
<text x="420.5" y="234.97" font-size="6.9" textLength="9.25" lengthAdjust="spacingAndGlyphs">3%</text>
<text x="420.5" y="241.04" font-size="6.9" textLength="9.25" lengthAdjust="spacingAndGlyphs">3%</text>
<text x="420.5" y="247.11" font-size="6.9" textLength="9.25" lengthAdjust="spacingAndGlyphs">3%</text>
<text x="420.5" y="253.18" font-size="6.9" textLength="9.25" lengthAdjust="spacingAndGlyphs">3%</text>
<text x="420.5" y="259.25" font-size="6.9" textLength="9.25" lengthAdjust="spacingAndGlyphs">3%</text>
<text x="420.5" y="265.32" font-size="6.9" textLength="9.25" lengthAdjust="spacingAndGlyphs">3%</text>
<text x="420.5" y="271.39" font-size="6.9" textLength="9.25" lengthAdjust="spacingAndGlyphs">3%</text>
<text x="420.5" y="277.46" font-size="6.9" textLength="9.25" lengthAdjust="spacingAndGlyphs">3%</text>
<text x="420.5" y="283.53" font-size="6.9" textLength="9.25" lengthAdjust="spacingAndGlyphs">3%</text>
</g>
<g id="samples" text-anchor="end">
<text transform="translate(41.15 285.6) rotate(-90)" font-size="6.7" textLength="19.67" lengthAdjust="spacingAndGlyphs">HRL1D</text>
<text transform="translate(51.91 285.6) rotate(-90)" font-size="6.7" textLength="19.67" lengthAdjust="spacingAndGlyphs">HRL2R</text>
<text transform="translate(62.67 285.6) rotate(-90)" font-size="6.7" textLength="19.67" lengthAdjust="spacingAndGlyphs">HRL3R</text>
<text transform="translate(73.43 285.6) rotate(-90)" font-size="6.7" textLength="19.67" lengthAdjust="spacingAndGlyphs">HRL4D</text>
<text transform="translate(84.19 285.6) rotate(-90)" font-size="6.7" textLength="19.67" lengthAdjust="spacingAndGlyphs">HRL4R</text>
<text transform="translate(94.95 285.6) rotate(-90)" font-size="6.7" textLength="19.67" lengthAdjust="spacingAndGlyphs">HRL5R</text>
<text transform="translate(105.71 285.6) rotate(-90)" font-size="6.7" textLength="19.67" lengthAdjust="spacingAndGlyphs">HRL6R</text>
<text transform="translate(116.47 285.6) rotate(-90)" font-size="6.7" textLength="19.67" lengthAdjust="spacingAndGlyphs">HRL7D</text>
<text transform="translate(127.23 285.6) rotate(-90)" font-size="6.7" textLength="19.67" lengthAdjust="spacingAndGlyphs">HRL7R</text>
<text transform="translate(137.99 285.6) rotate(-90)" font-size="6.7" textLength="19.67" lengthAdjust="spacingAndGlyphs">HRL8R</text>
<text transform="translate(148.75 285.6) rotate(-90)" font-size="6.7" textLength="19.67" lengthAdjust="spacingAndGlyphs">HRL9D</text>
<text transform="translate(159.51 285.6) rotate(-90)" font-size="6.7" textLength="19.67" lengthAdjust="spacingAndGlyphs">HRL9R</text>
<text transform="translate(170.27 285.6) rotate(-90)" font-size="6.7" textLength="23.01" lengthAdjust="spacingAndGlyphs">HRL10D</text>
<text transform="translate(181.03 285.6) rotate(-90)" font-size="6.7" textLength="23.01" lengthAdjust="spacingAndGlyphs">HRL10R</text>
<text transform="translate(191.79 285.6) rotate(-90)" font-size="6.7" textLength="22.56" lengthAdjust="spacingAndGlyphs">HRL11R</text>
<text transform="translate(202.55 285.6) rotate(-90)" font-size="6.7" textLength="23.01" lengthAdjust="spacingAndGlyphs">HRL12R</text>
<text transform="translate(213.31 285.6) rotate(-90)" font-size="6.7" textLength="23.01" lengthAdjust="spacingAndGlyphs">HRL13R</text>
<text transform="translate(224.07 285.6) rotate(-90)" font-size="6.7" textLength="23.01" lengthAdjust="spacingAndGlyphs">HRL14D</text>
<text transform="translate(234.83 285.6) rotate(-90)" font-size="6.7" textLength="23.01" lengthAdjust="spacingAndGlyphs">HRL14R</text>
<text transform="translate(245.59 285.6) rotate(-90)" font-size="6.7" textLength="23.01" lengthAdjust="spacingAndGlyphs">HRL15R</text>
<text transform="translate(256.35 285.6) rotate(-90)" font-size="6.7" textLength="23.01" lengthAdjust="spacingAndGlyphs">HRL16R</text>
<text transform="translate(267.11 285.6) rotate(-90)" font-size="6.7" textLength="23.01" lengthAdjust="spacingAndGlyphs">HRL17D</text>
<text transform="translate(277.87 285.6) rotate(-90)" font-size="6.7" textLength="23.01" lengthAdjust="spacingAndGlyphs">HRL17R</text>
<text transform="translate(288.63 285.6) rotate(-90)" font-size="6.7" textLength="23.01" lengthAdjust="spacingAndGlyphs">HRL18D</text>
<text transform="translate(299.39 285.6) rotate(-90)" font-size="6.7" textLength="23.01" lengthAdjust="spacingAndGlyphs">HRL19R</text>
<text transform="translate(310.15 285.6) rotate(-90)" font-size="6.7" textLength="23.01" lengthAdjust="spacingAndGlyphs">HRL20R</text>
<text transform="translate(320.91 285.6) rotate(-90)" font-size="6.7" textLength="23.01" lengthAdjust="spacingAndGlyphs">HRL21D</text>
<text transform="translate(331.67 285.6) rotate(-90)" font-size="6.7" textLength="23.01" lengthAdjust="spacingAndGlyphs">HRL22D</text>
<text transform="translate(342.43 285.6) rotate(-90)" font-size="6.7" textLength="23.01" lengthAdjust="spacingAndGlyphs">HRL22R</text>
<text transform="translate(353.19 285.6) rotate(-90)" font-size="6.7" textLength="23.01" lengthAdjust="spacingAndGlyphs">HRL23R</text>
<text transform="translate(363.95 285.6) rotate(-90)" font-size="6.7" textLength="26.35" lengthAdjust="spacingAndGlyphs">HRL24R1</text>
<text transform="translate(374.71 285.6) rotate(-90)" font-size="6.7" textLength="26.35" lengthAdjust="spacingAndGlyphs">HRL24R2</text>
<text transform="translate(385.47 285.6) rotate(-90)" font-size="6.7" textLength="23.01" lengthAdjust="spacingAndGlyphs">HRL25D</text>
<text transform="translate(396.23 285.6) rotate(-90)" font-size="6.7" textLength="23.01" lengthAdjust="spacingAndGlyphs">HRL25R</text>
<text transform="translate(406.99 285.6) rotate(-90)" font-size="6.7" textLength="23.01" lengthAdjust="spacingAndGlyphs">HRL26D</text>
<text transform="translate(417.75 285.6) rotate(-90)" font-size="6.7" textLength="23.01" lengthAdjust="spacingAndGlyphs">HRL26R</text>
</g>
<g id="ann">
<rect x="32.9" y="315.3" width="32.58" height="13.8" fill="#CCCCCC"/>
<rect x="75.94" y="315.3" width="11.06" height="13.8" fill="#000000"/>
<rect x="151.26" y="315.3" width="11.06" height="13.8" fill="#000000"/>
<rect x="172.78" y="315.3" width="11.06" height="13.8" fill="#000000"/>
<rect x="205.06" y="315.3" width="54.1" height="13.8" fill="#CCCCCC"/>
<rect x="269.62" y="315.3" width="54.1" height="13.8" fill="#CCCCCC"/>
<rect x="334.18" y="315.3" width="21.82" height="13.8" fill="#CCCCCC"/>
<rect x="377.22" y="315.3" width="21.82" height="13.8" fill="#CCCCCC"/>
<rect x="409.5" y="315.3" width="10.76" height="13.8" fill="#000000"/>
<rect x="32.9" y="328.75" width="11.06" height="13.8" fill="#000000"/>
<rect x="108.22" y="328.75" width="21.82" height="13.8" fill="#000000"/>
<rect x="183.54" y="328.75" width="11.06" height="13.8" fill="#000000"/>
<rect x="32.9" y="342.2" width="11.06" height="13.8" fill="#EE3A50"/>
<rect x="43.66" y="342.2" width="21.82" height="13.8" fill="#FED87A"/>
<rect x="65.18" y="342.2" width="11.06" height="13.8" fill="#EE3A50"/>
<rect x="75.94" y="342.2" width="11.06" height="13.8" fill="#FD8D4A"/>
<rect x="86.7" y="342.2" width="21.82" height="13.8" fill="#FED87A"/>
<rect x="108.22" y="342.2" width="11.06" height="13.8" fill="#EE3A50"/>
<rect x="118.98" y="342.2" width="21.82" height="13.8" fill="#FED87A"/>
<rect x="140.5" y="342.2" width="11.06" height="13.8" fill="#EE3A50"/>
<rect x="151.26" y="342.2" width="11.06" height="13.8" fill="#FED87A"/>
<rect x="162.02" y="342.2" width="11.06" height="13.8" fill="#EE3A50"/>
<rect x="172.78" y="342.2" width="11.06" height="13.8" fill="#FD8D4A"/>
<rect x="183.54" y="342.2" width="32.58" height="13.8" fill="#FED87A"/>
<rect x="215.82" y="342.2" width="11.06" height="13.8" fill="#EE3A50"/>
<rect x="226.58" y="342.2" width="32.58" height="13.8" fill="#FED87A"/>
<rect x="258.86" y="342.2" width="11.06" height="13.8" fill="#EE3A50"/>
<rect x="269.62" y="342.2" width="11.06" height="13.8" fill="#FD8D4A"/>
<rect x="280.38" y="342.2" width="11.06" height="13.8" fill="#EE3A50"/>
<rect x="291.14" y="342.2" width="21.82" height="13.8" fill="#FED87A"/>
<rect x="312.66" y="342.2" width="21.82" height="13.8" fill="#EE3A50"/>
<rect x="334.18" y="342.2" width="43.34" height="13.8" fill="#FED87A"/>
<rect x="377.22" y="342.2" width="11.06" height="13.8" fill="#EE3A50"/>
<rect x="387.98" y="342.2" width="11.06" height="13.8" fill="#FED87A"/>
<rect x="398.74" y="342.2" width="11.06" height="13.8" fill="#EE3A50"/>
<rect x="409.5" y="342.2" width="10.76" height="13.8" fill="#FED87A"/>
<rect x="32.9" y="355.65" width="11.06" height="13.8" fill="#FED87A"/>
<rect x="43.66" y="355.65" width="43.34" height="13.8" fill="#FD8D4A"/>
<rect x="86.7" y="355.65" width="11.06" height="13.8" fill="#FFFAB8"/>
<rect x="97.46" y="355.65" width="11.06" height="13.8" fill="#FD8D4A"/>
<rect x="108.22" y="355.65" width="21.82" height="13.8" fill="#EE3A50"/>
<rect x="129.74" y="355.65" width="11.06" height="13.8" fill="#FD8D4A"/>
<rect x="140.5" y="355.65" width="21.82" height="13.8" fill="#FFFAB8"/>
<rect x="162.02" y="355.65" width="21.82" height="13.8" fill="#FD8D4A"/>
<rect x="183.54" y="355.65" width="11.06" height="13.8" fill="#EE3A50"/>
<rect x="194.3" y="355.65" width="54.1" height="13.8" fill="#FD8D4A"/>
<rect x="248.1" y="355.65" width="11.06" height="13.8" fill="#FFFAB8"/>
<rect x="258.86" y="355.65" width="140.18" height="13.8" fill="#FD8D4A"/>
<rect x="398.74" y="355.65" width="21.52" height="13.8" fill="#FFFAB8"/>
<rect x="32.9" y="369.1" width="11.06" height="13.8" fill="#FD8D4A"/>
<rect x="43.66" y="369.1" width="11.06" height="13.8" fill="#EE3A50"/>
<rect x="54.42" y="369.1" width="11.06" height="13.8" fill="#FD8D4A"/>
<rect x="65.18" y="369.1" width="21.82" height="13.8" fill="#EE3A50"/>
<rect x="97.46" y="369.1" width="11.06" height="13.8" fill="#FFFAB8"/>
<rect x="108.22" y="369.1" width="86.38" height="13.8" fill="#EE3A50"/>
<rect x="205.06" y="369.1" width="32.58" height="13.8" fill="#EE3A50"/>
<rect x="237.34" y="369.1" width="21.82" height="13.8" fill="#FED87A"/>
<rect x="258.86" y="369.1" width="32.58" height="13.8" fill="#EE3A50"/>
<rect x="291.14" y="369.1" width="11.06" height="13.8" fill="#FED87A"/>
<rect x="312.66" y="369.1" width="11.06" height="13.8" fill="#FED87A"/>
<rect x="323.42" y="369.1" width="21.82" height="13.8" fill="#EE3A50"/>
<rect x="355.7" y="369.1" width="11.06" height="13.8" fill="#FED87A"/>
<rect x="366.46" y="369.1" width="43.34" height="13.8" fill="#EE3A50"/>
<rect x="409.5" y="369.1" width="10.76" height="13.8" fill="#FED87A"/>
<rect x="32.9" y="382.55" width="11.06" height="13.45" fill="#FD8D4A"/>
<rect x="54.42" y="382.55" width="32.58" height="13.45" fill="#CCCCCC"/>
<rect x="97.46" y="382.55" width="97.14" height="13.45" fill="#CCCCCC"/>
<rect x="205.06" y="382.55" width="11.06" height="13.45" fill="#CCCCCC"/>
<rect x="215.82" y="382.55" width="21.82" height="13.45" fill="#D5EE8A"/>
<rect x="237.34" y="382.55" width="11.06" height="13.45" fill="#FED87A"/>
<rect x="248.1" y="382.55" width="11.06" height="13.45" fill="#CCCCCC"/>
<rect x="258.86" y="382.55" width="21.82" height="13.45" fill="#FD8D4A"/>
<rect x="280.38" y="382.55" width="11.06" height="13.45" fill="#EE3A50"/>
<rect x="291.14" y="382.55" width="11.06" height="13.45" fill="#FED87A"/>
<rect x="312.66" y="382.55" width="11.06" height="13.45" fill="#CCCCCC"/>
<rect x="323.42" y="382.55" width="21.82" height="13.45" fill="#EE3A50"/>
<rect x="355.7" y="382.55" width="21.82" height="13.45" fill="#CCCCCC"/>
<rect x="377.22" y="382.55" width="11.06" height="13.45" fill="#FFFAB8"/>
<rect x="387.98" y="382.55" width="32.28" height="13.45" fill="#CCCCCC"/>
</g>
<g id="annlab">
<text x="422.3" y="325.13" font-size="6.7" textLength="45.87" lengthAdjust="spacingAndGlyphs">CRLF2_overexp</text>
<text x="422.3" y="338.58" font-size="6.7" textLength="39.22" lengthAdjust="spacingAndGlyphs">WT1_overexp</text>
<text x="422.3" y="352.03" font-size="6.7" textLength="66.53" lengthAdjust="spacingAndGlyphs">Sample_collection_time</text>
<text x="422.3" y="365.48" font-size="6.7" textLength="22.76" lengthAdjust="spacingAndGlyphs">Disease</text>
<text x="422.3" y="378.93" font-size="6.7" textLength="28.37" lengthAdjust="spacingAndGlyphs">Karyotype</text>
<text x="422.3" y="392.38" font-size="6.7" textLength="46.92" lengthAdjust="spacingAndGlyphs">Rearrangements</text>
</g>
<text x="26.1" y="413.9" font-weight="bold" style="stroke-width:0.25px;fill:#000;stroke:#000" font-size="7.1">Mutation type</text>
<rect x="19.85" y="423.2" width="2.5" height="2.5" fill="#8ECDE5"/>
<text x="27.1" y="426.6" font-size="6.32">Missense Mutation</text>
<rect x="19.85" y="430.5" width="2.5" height="2.5" fill="#FF7F00"/>
<text x="27.1" y="433.9" font-size="6.32">In Frame Del Mutation</text>
<rect x="19.85" y="437.8" width="2.5" height="2.5" fill="#97D980"/>
<text x="27.1" y="441.2" font-size="6.32">Nonsense Mutation</text>
<rect x="19.85" y="445.1" width="2.5" height="2.5" fill="#FB9A99"/>
<text x="27.1" y="448.5" font-size="6.32">Frame Shift Ins Mutation</text>
<rect x="19.85" y="452.4" width="2.5" height="2.5" fill="#1F78B4"/>
<text x="27.1" y="455.8" font-size="6.32">Frame Shift Del Mutation</text>
<rect x="19.85" y="459.7" width="2.5" height="2.5" fill="#FDBF6F"/>
<text x="27.1" y="463.1" font-size="6.32">Splice Site Mutation</text>
<rect x="19.85" y="467" width="2.5" height="2.5" fill="#FF0000"/>
<text x="27.1" y="470.4" font-size="6.32">In Frame Ins Mutation</text>
<rect x="19.85" y="474.3" width="2.5" height="2.5" fill="#CC5A1E"/>
<text x="27.1" y="477.7" font-size="6.32">Del</text>
<rect x="19.85" y="481.6" width="2.5" height="2.5" fill="#7030A0"/>
<text x="27.1" y="485" font-size="6.32">Amp</text>
<rect x="19.85" y="488.9" width="2.5" height="2.5" fill="#00A000"/>
<text x="27.1" y="492.3" font-size="6.32">Multi Hit</text>
<rect x="19.85" y="496.2" width="2.5" height="2.5" fill="#4A5470"/>
<text x="27.1" y="499.6" font-size="6.32">Complex</text>
<text x="107.6" y="413.7" font-weight="bold" style="stroke-width:0.25px;fill:#000;stroke:#000" font-size="6">CRLF2 overexp</text>
<text x="128.2" y="422.9" font-size="6.32">N/A</text>
<rect x="121.45" y="426.7" width="2.5" height="2.5" fill="#C8C8C8"/>
<text x="128.2" y="430.1" font-size="6.32">No</text>
<rect x="121.45" y="433.9" width="2.5" height="2.5" fill="#000"/>
<text x="128.2" y="437.3" font-size="6.32">Yes</text>
<text x="171.3" y="413.7" font-weight="bold" style="stroke-width:0.25px;fill:#000;stroke:#000" font-size="6">WT1 overexp</text>
<text x="188.4" y="422.9" font-size="6.32">N/A</text>
<rect x="181.35" y="426.7" width="2.5" height="2.5" fill="#C8C8C8"/>
<text x="188.4" y="430.1" font-size="6.32">No</text>
<rect x="181.35" y="433.9" width="2.5" height="2.5" fill="#000"/>
<text x="188.4" y="437.3" font-size="6.32">Yes</text>
<text x="229.5" y="413.7" font-weight="bold" style="stroke-width:0.25px;fill:#000;stroke:#000" font-size="5.8">Sample collection time</text>
<rect x="247.75" y="419.4" width="2.5" height="2.5" fill="#EE3A50"/>
<text x="254.5" y="422.8" font-size="6.32">Diagnosis</text>
<rect x="247.75" y="426.6" width="2.5" height="2.5" fill="#FD8D4A"/>
<text x="254.5" y="430" font-size="6.32">Refractory</text>
<rect x="247.75" y="433.8" width="2.5" height="2.5" fill="#FED87A"/>
<text x="254.5" y="437.2" font-size="6.32">Relapse</text>
<text x="313.1" y="413.5" font-weight="bold" style="stroke-width:0.25px;fill:#000;stroke:#000" font-size="6">Disease</text>
<rect x="317.35" y="419.5" width="2.5" height="2.5" fill="#EE3A50"/>
<text x="324.5" y="422.9" font-size="6.32">AML</text>
<rect x="317.35" y="426.7" width="2.5" height="2.5" fill="#FD8D4A"/>
<text x="324.5" y="430.1" font-size="6.32">B−ALL</text>
<rect x="317.35" y="433.9" width="2.5" height="2.5" fill="#FED87A"/>
<text x="324.5" y="437.3" font-size="6.32">MPAL</text>
<rect x="317.35" y="441.1" width="2.5" height="2.5" fill="#FFFAB8"/>
<text x="324.5" y="444.5" font-size="6.32">T−ALL</text>
<text x="362.2" y="413.5" font-weight="bold" style="stroke-width:0.25px;fill:#000;stroke:#000" font-size="6">Karyotype</text>
<rect x="366.45" y="419.5" width="2.5" height="2.5" fill="#FD8D4A"/>
<text x="373.1" y="422.9" font-size="6.32">Complex</text>
<rect x="366.45" y="426.7" width="2.5" height="2.5" fill="#FED87A"/>
<text x="373.1" y="430.1" font-size="6.32">Hyperdiploid</text>
<rect x="366.45" y="433.9" width="2.5" height="2.5" fill="#FFFAB8"/>
<text x="373.1" y="437.3" font-size="6.32">Hypodiploid</text>
<text x="373.1" y="444.5" font-size="6.32">N/A</text>
<rect x="366.45" y="448.3" width="2.5" height="2.5" fill="#EE3A50"/>
<text x="373.1" y="451.7" font-size="6.32">Normal</text>
<text x="418.6" y="412.2" font-weight="bold" style="stroke-width:0.25px;fill:#000;stroke:#000" font-size="6">Rearrangements</text>
<rect x="422.25" y="418.5" width="2.5" height="2.5" fill="#EE3A50"/>
<text x="429.4" y="421.9" font-size="6.32">BCR−ABL1</text>
<rect x="422.25" y="425.83" width="2.5" height="2.5" fill="#FD8D4A"/>
<text x="429.4" y="429.23" font-size="6.32">E2A−other</text>
<rect x="422.25" y="433.16" width="2.5" height="2.5" fill="#FED87A"/>
<text x="429.4" y="436.56" font-size="6.32">ETV6−RUNX1</text>
<rect x="422.25" y="440.49" width="2.5" height="2.5" fill="#D5EE8A"/>
<text x="429.4" y="443.89" font-size="6.32">KMT2A−MLLT1</text>
<rect x="422.25" y="447.82" width="2.5" height="2.5" fill="#FFFAB8"/>
<text x="429.4" y="451.22" font-size="6.32">KMT2A−other</text>
<text x="429.4" y="458.55" font-size="6.32">N/A</text>
<rect x="422.25" y="462.48" width="2.5" height="2.5" fill="#C8C8C8"/>
<text x="429.4" y="465.88" font-size="6.32">None</text>
</svg>
</body></html>
